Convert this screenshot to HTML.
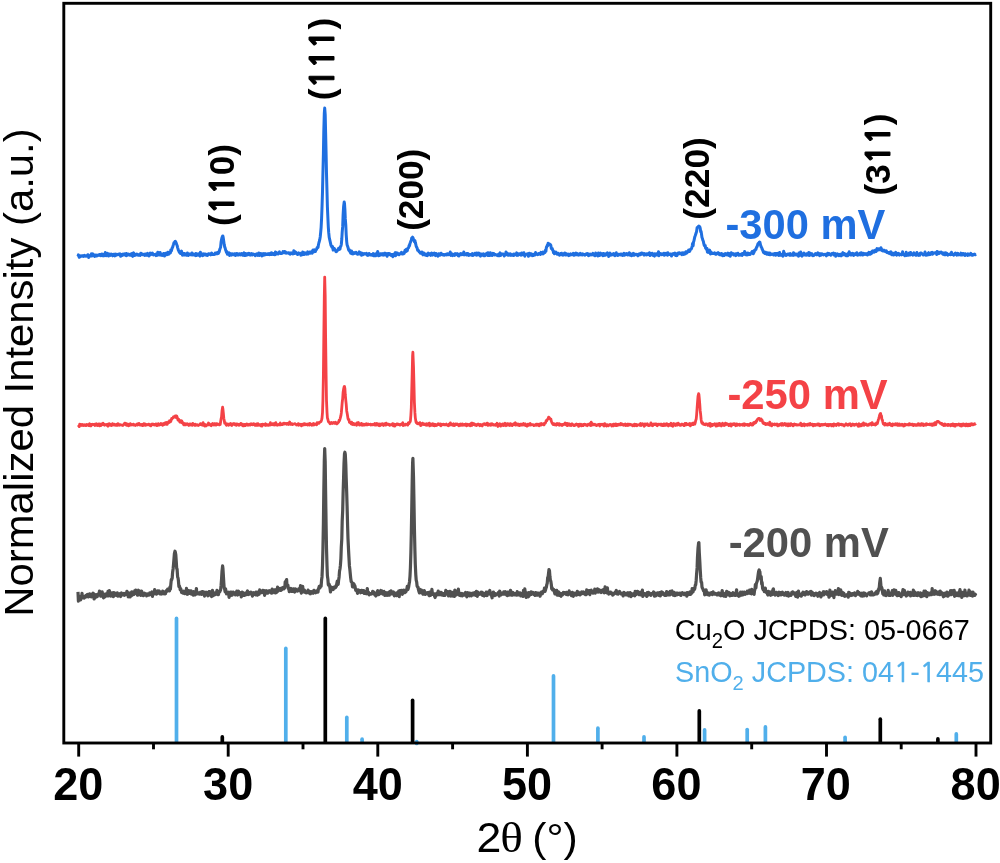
<!DOCTYPE html>
<html><head><meta charset="utf-8"><style>
html,body{margin:0;padding:0;background:#fff;}
svg{display:block;}
text{font-family:"Liberation Sans",Arial,sans-serif;font-kerning:none;font-feature-settings:"kern" 0;}
</style></head><body>
<svg width="1000" height="863" viewBox="0 0 1000 863">
<rect x="0" y="0" width="1000" height="863" fill="#fff"/>
<line x1="176.5" y1="741.5" x2="176.5" y2="618.4" stroke="#50afeb" stroke-width="3.7" stroke-linecap="round"/>
<line x1="285.8" y1="741.5" x2="285.8" y2="648.4" stroke="#50afeb" stroke-width="3.7" stroke-linecap="round"/>
<line x1="346.8" y1="741.5" x2="346.8" y2="717.4" stroke="#50afeb" stroke-width="3.7" stroke-linecap="round"/>
<line x1="362.1" y1="741.5" x2="362.1" y2="739.2" stroke="#50afeb" stroke-width="3.7" stroke-linecap="round"/>
<line x1="416.7" y1="741.5" x2="416.7" y2="743.4" stroke="#50afeb" stroke-width="3.7" stroke-linecap="round"/>
<line x1="553.5" y1="741.5" x2="553.5" y2="675.9" stroke="#50afeb" stroke-width="3.7" stroke-linecap="round"/>
<line x1="597.9" y1="741.5" x2="597.9" y2="728.2" stroke="#50afeb" stroke-width="3.7" stroke-linecap="round"/>
<line x1="644.0" y1="741.5" x2="644.0" y2="736.9" stroke="#50afeb" stroke-width="3.7" stroke-linecap="round"/>
<line x1="704.6" y1="741.5" x2="704.6" y2="729.9" stroke="#50afeb" stroke-width="3.7" stroke-linecap="round"/>
<line x1="747.2" y1="741.5" x2="747.2" y2="729.5" stroke="#50afeb" stroke-width="3.7" stroke-linecap="round"/>
<line x1="765.4" y1="741.5" x2="765.4" y2="726.9" stroke="#50afeb" stroke-width="3.7" stroke-linecap="round"/>
<line x1="845.1" y1="741.5" x2="845.1" y2="737.4" stroke="#50afeb" stroke-width="3.7" stroke-linecap="round"/>
<line x1="956.3" y1="741.5" x2="956.3" y2="733.9" stroke="#50afeb" stroke-width="3.7" stroke-linecap="round"/>
<line x1="222.3" y1="741.5" x2="222.3" y2="736.9" stroke="#000" stroke-width="3.7" stroke-linecap="round"/>
<line x1="325.3" y1="741.5" x2="325.3" y2="618.4" stroke="#000" stroke-width="3.7" stroke-linecap="round"/>
<line x1="412.6" y1="741.5" x2="412.6" y2="700.4" stroke="#000" stroke-width="3.7" stroke-linecap="round"/>
<line x1="699.3" y1="741.5" x2="699.3" y2="710.9" stroke="#000" stroke-width="3.7" stroke-linecap="round"/>
<line x1="880.3" y1="741.5" x2="880.3" y2="719.2" stroke="#000" stroke-width="3.7" stroke-linecap="round"/>
<line x1="937.9" y1="741.5" x2="937.9" y2="738.9" stroke="#000" stroke-width="3.7" stroke-linecap="round"/>
<polyline points="78.0,591.9 78.4,601.2 78.8,597.5 79.3,596.3 79.7,598.3 80.2,598.0 80.6,600.0 81.1,597.8 81.5,598.4 82.0,593.3 82.4,596.9 82.9,597.6 83.3,597.4 83.8,597.8 84.2,598.1 84.7,597.3 85.1,596.1 85.6,596.9 86.0,595.4 86.5,596.8 86.9,595.0 87.4,594.5 87.8,595.7 88.3,596.9 88.7,596.4 89.2,595.5 89.6,593.8 90.1,596.4 90.5,596.3 91.0,594.7 91.4,596.9 91.9,594.1 92.3,594.7 92.8,595.0 93.2,593.2 93.7,594.8 94.1,599.0 94.6,594.3 95.0,596.7 95.4,597.5 95.9,595.1 96.3,594.6 96.8,595.9 97.2,596.6 97.7,595.3 98.1,595.3 98.6,593.6 99.0,594.3 99.5,591.0 99.9,593.8 100.4,595.4 100.8,596.2 101.3,594.4 101.7,594.4 102.2,591.8 102.6,595.9 103.1,594.7 103.5,597.9 104.0,594.1 104.4,594.3 104.9,596.9 105.3,594.8 105.8,596.0 106.2,593.9 106.7,595.8 107.1,595.9 107.6,593.9 108.0,591.4 108.5,595.9 108.9,595.3 109.4,590.6 109.8,595.4 110.3,592.8 110.7,596.1 111.2,594.2 111.6,595.9 112.0,592.9 112.5,594.6 112.9,593.6 113.4,596.7 113.8,592.6 114.3,593.7 114.7,593.7 115.2,593.2 115.6,594.1 116.1,595.3 116.5,595.5 117.0,595.5 117.4,592.9 117.9,596.2 118.3,595.2 118.8,594.9 119.2,594.2 119.7,593.8 120.1,595.9 120.6,596.5 121.0,594.4 121.5,593.0 121.9,593.5 122.4,594.1 122.8,594.8 123.3,594.0 123.7,594.7 124.2,593.4 124.6,595.3 125.1,594.2 125.5,594.5 126.0,593.7 126.4,594.1 126.9,591.3 127.3,592.5 127.8,592.5 128.2,596.8 128.6,594.7 129.1,595.0 129.5,593.7 130.0,597.0 130.4,592.9 130.9,593.0 131.3,595.8 131.8,591.8 132.2,595.2 132.7,594.2 133.1,593.5 133.6,591.8 134.0,594.5 134.5,593.3 134.9,590.6 135.4,592.1 135.8,590.0 136.3,592.6 136.7,591.4 137.2,594.4 137.6,595.2 138.1,592.4 138.5,590.2 139.0,594.5 139.4,594.7 139.9,593.6 140.3,595.0 140.8,595.3 141.2,591.0 141.7,591.2 142.1,594.4 142.6,594.8 143.0,595.5 143.5,595.7 143.9,593.5 144.4,593.1 144.8,594.1 145.2,593.7 145.7,593.9 146.1,593.9 146.6,595.9 147.0,594.6 147.5,593.9 147.9,595.0 148.4,594.6 148.8,595.0 149.3,594.4 149.7,593.0 150.2,594.5 150.6,594.2 151.1,593.0 151.5,593.2 152.0,591.9 152.4,596.4 152.9,592.9 153.3,594.5 153.8,593.7 154.2,592.8 154.7,589.5 155.1,592.6 155.6,593.6 156.0,591.8 156.5,594.1 156.9,593.9 157.4,592.7 157.8,590.9 158.3,591.0 158.7,592.4 159.2,590.9 159.6,593.5 160.1,593.9 160.5,593.2 161.0,592.5 161.4,594.0 161.8,592.8 162.3,593.2 162.7,591.1 163.2,593.8 163.6,591.6 164.1,593.5 164.5,593.8 165.0,593.3 165.4,593.8 165.9,592.0 166.3,590.7 166.8,591.5 167.2,590.7 167.7,589.1 168.1,590.4 168.6,590.0 169.0,590.0 169.5,590.9 169.9,587.2 170.4,589.0 170.8,584.7 171.3,579.6 171.7,579.8 172.2,578.1 172.6,572.2 173.1,569.0 173.5,564.7 174.0,558.7 174.4,553.7 175.0,551.2 175.3,552.0 175.8,554.8 176.2,560.5 176.7,568.5 177.1,569.1 177.6,576.9 178.0,577.8 178.4,580.5 178.9,586.6 179.3,585.8 179.8,587.5 180.2,589.6 180.7,588.6 181.1,590.4 181.6,592.5 182.0,591.1 182.5,591.4 182.9,591.4 183.4,593.2 183.8,591.2 184.3,591.3 184.7,593.7 185.2,593.3 185.6,592.7 186.1,593.4 186.5,588.4 187.0,592.7 187.4,594.3 187.9,594.1 188.3,593.3 188.8,590.5 189.2,593.5 189.7,593.2 190.1,592.8 190.6,590.8 191.0,590.8 191.5,594.2 191.9,592.7 192.4,593.4 192.8,592.9 193.3,595.1 193.7,591.5 194.2,593.8 194.6,593.7 195.0,594.9 195.5,594.6 195.9,593.1 196.4,588.5 196.8,592.9 197.3,592.4 197.7,593.0 198.2,593.8 198.6,592.8 199.1,593.1 199.5,594.0 200.0,593.0 200.4,592.3 200.9,593.6 201.3,594.3 201.8,593.0 202.2,591.6 202.7,594.2 203.1,594.0 203.6,591.9 204.0,592.5 204.5,596.1 204.9,593.5 205.4,592.5 205.8,594.9 206.3,592.2 206.7,593.3 207.2,594.6 207.6,593.7 208.1,595.8 208.5,594.6 209.0,591.7 209.4,595.0 209.9,591.7 210.3,594.0 210.8,592.7 211.2,591.8 211.6,596.6 212.1,594.6 212.5,590.3 213.0,595.2 213.4,595.5 213.9,593.4 214.3,594.6 214.8,593.9 215.2,594.6 215.7,592.7 216.1,594.2 216.6,592.5 217.0,590.3 217.5,593.4 217.9,594.7 218.4,594.7 218.8,593.0 219.3,591.6 219.7,591.9 220.2,590.6 220.6,589.9 221.1,585.2 221.5,579.8 222.0,571.4 222.6,565.9 222.9,568.2 223.3,574.4 223.8,582.9 224.2,588.2 224.7,589.3 225.1,591.8 225.6,588.9 226.0,591.7 226.5,593.8 226.9,592.3 227.4,592.9 227.8,592.7 228.3,592.2 228.7,594.6 229.1,597.3 229.6,592.8 230.0,594.5 230.5,592.0 230.9,594.6 231.4,595.2 231.8,592.0 232.3,595.1 232.7,593.6 233.2,592.1 233.6,593.8 234.1,594.0 234.5,593.8 235.0,592.9 235.4,594.9 235.9,593.2 236.3,593.2 236.8,591.1 237.2,594.3 237.7,595.0 238.1,593.0 238.6,591.2 239.0,593.6 239.5,593.8 239.9,592.5 240.4,594.7 240.8,594.0 241.3,597.0 241.7,595.0 242.2,592.1 242.6,594.7 243.1,594.8 243.5,595.4 244.0,593.2 244.4,593.7 244.9,595.3 245.3,593.1 245.7,593.6 246.2,593.0 246.6,594.6 247.1,591.8 247.5,590.9 248.0,594.0 248.4,594.5 248.9,594.1 249.3,592.8 249.8,594.1 250.2,592.5 250.7,593.1 251.1,592.2 251.6,592.8 252.0,593.9 252.5,596.1 252.9,593.4 253.4,592.8 253.8,593.5 254.3,593.0 254.7,594.3 255.2,594.1 255.6,594.8 256.1,592.0 256.5,593.4 257.0,594.2 257.4,595.2 257.9,593.7 258.3,591.8 258.8,592.9 259.2,594.3 259.7,589.9 260.1,591.7 260.6,592.2 261.0,592.4 261.5,591.9 261.9,592.6 262.3,592.3 262.8,590.3 263.2,591.3 263.7,592.8 264.1,590.6 264.6,595.4 265.0,592.1 265.5,591.7 265.9,593.2 266.4,590.7 266.8,591.8 267.3,591.9 267.7,593.2 268.2,592.6 268.6,591.1 269.1,590.7 269.5,592.1 270.0,592.0 270.4,591.8 270.9,590.7 271.3,593.1 271.8,591.8 272.2,589.1 272.7,592.9 273.1,592.1 273.6,591.2 274.0,590.6 274.5,589.8 274.9,590.0 275.4,593.0 275.8,590.1 276.3,592.5 276.7,592.1 277.2,589.6 277.6,587.1 278.1,591.1 278.5,590.6 278.9,589.4 279.4,589.9 279.8,589.8 280.3,588.4 280.7,590.4 281.2,590.0 281.6,589.9 282.1,587.8 282.5,587.9 283.0,587.4 283.4,588.9 283.9,588.9 284.3,587.3 284.8,588.0 285.2,581.8 285.7,581.3 286.1,580.9 286.6,579.6 287.0,585.7 287.5,585.5 287.9,585.2 288.4,588.8 288.8,588.9 289.3,591.7 289.7,588.9 290.2,589.2 290.6,590.6 291.1,588.5 291.5,591.4 292.0,589.9 292.4,589.6 292.9,591.3 293.3,588.9 293.8,588.8 294.2,591.8 294.7,592.0 295.1,589.7 295.5,588.9 296.0,589.7 296.4,591.0 296.9,590.9 297.3,591.1 297.8,590.0 298.2,590.6 298.7,589.0 299.1,589.6 299.6,590.5 300.0,590.1 300.5,585.7 300.9,590.8 301.4,593.1 301.8,590.7 302.3,591.7 302.7,586.4 303.2,591.8 303.6,591.4 304.1,591.7 304.5,590.1 305.0,591.9 305.4,592.5 305.9,591.9 306.3,592.8 306.8,592.1 307.2,592.3 307.7,592.0 308.1,590.1 308.6,592.9 309.0,592.3 309.5,592.6 309.9,591.6 310.4,593.8 310.8,593.2 311.3,592.4 311.7,591.7 312.1,592.3 312.6,592.9 313.0,593.2 313.5,591.5 313.9,590.3 314.4,591.6 314.8,591.7 315.3,591.3 315.7,592.8 316.2,591.9 316.6,591.6 317.1,590.7 317.5,590.9 318.0,592.0 318.4,588.8 318.9,587.7 319.3,586.3 319.8,588.0 320.2,587.2 320.7,585.4 321.1,586.3 321.6,579.7 322.0,576.9 322.5,565.3 322.9,550.2 323.4,523.8 323.8,491.6 324.3,460.6 324.7,448.6 325.2,462.0 325.6,490.9 326.1,525.2 326.5,548.3 327.0,565.5 327.4,575.7 327.9,579.4 328.3,584.7 328.7,585.3 329.2,584.3 329.6,585.9 330.1,588.7 330.5,592.0 331.0,589.5 331.4,587.2 331.9,589.1 332.3,588.8 332.8,587.8 333.2,589.5 333.7,588.0 334.1,587.1 334.6,587.2 335.0,586.9 335.5,587.7 335.9,585.8 336.4,586.3 336.8,583.5 337.3,581.1 337.7,583.9 338.2,584.2 338.6,580.3 339.1,576.9 339.5,571.3 340.0,568.7 340.4,565.4 340.9,558.3 341.3,546.9 341.8,538.9 342.2,521.1 342.7,510.3 343.1,493.3 343.6,477.6 344.0,463.6 344.5,453.6 344.9,452.2 345.3,454.3 345.8,464.5 346.2,478.2 346.7,492.9 347.1,506.3 347.6,525.7 348.0,538.6 348.5,549.1 348.9,556.7 349.4,565.7 349.8,568.9 350.3,574.2 350.7,578.1 351.2,581.8 351.6,581.9 352.1,582.8 352.5,586.9 353.0,584.4 353.4,584.6 353.9,583.8 354.3,587.3 354.8,585.5 355.2,587.4 355.7,590.3 356.1,589.6 356.6,590.1 357.0,590.4 357.5,593.3 357.9,589.8 358.4,591.7 358.8,590.9 359.3,591.5 359.7,590.4 360.2,592.0 360.6,592.7 361.1,591.2 361.5,590.3 361.9,592.5 362.4,590.6 362.8,592.0 363.3,590.6 363.7,590.6 364.2,593.5 364.6,591.4 365.1,593.3 365.5,592.2 366.0,591.7 366.4,593.8 366.9,591.6 367.3,588.5 367.8,592.9 368.2,593.5 368.7,592.5 369.1,594.8 369.6,594.5 370.0,593.4 370.5,594.2 370.9,594.1 371.4,593.3 371.8,593.4 372.3,593.6 372.7,591.3 373.2,592.1 373.6,591.9 374.1,593.4 374.5,594.0 375.0,595.2 375.4,593.9 375.9,596.0 376.3,594.2 376.8,592.6 377.2,591.6 377.7,590.6 378.1,594.6 378.5,593.0 379.0,594.5 379.4,592.6 379.9,593.7 380.3,592.6 380.8,590.5 381.2,592.5 381.7,590.8 382.1,593.4 382.6,594.0 383.0,592.0 383.5,591.6 383.9,591.5 384.4,593.6 384.8,595.4 385.3,593.9 385.7,592.6 386.2,593.8 386.6,594.3 387.1,595.4 387.5,593.2 388.0,592.7 388.4,592.9 388.9,593.4 389.3,595.2 389.8,591.5 390.2,593.7 390.7,593.8 391.1,590.9 391.6,594.0 392.0,593.7 392.5,593.8 392.9,593.2 393.4,592.0 393.8,593.0 394.3,595.8 394.7,594.0 395.1,593.3 395.6,593.3 396.0,595.0 396.5,595.5 396.9,592.8 397.4,593.0 397.8,593.4 398.3,595.4 398.7,591.2 399.2,596.7 399.6,593.6 400.1,590.6 400.5,593.3 401.0,592.7 401.4,590.4 401.9,591.2 402.3,594.3 402.8,592.3 403.2,592.4 403.7,590.2 404.1,591.1 404.6,590.4 405.0,592.6 405.5,591.5 405.9,591.7 406.4,590.2 406.8,589.2 407.3,586.4 407.7,589.7 408.2,588.7 408.6,587.2 409.1,583.9 409.5,582.0 410.0,576.1 410.4,568.0 410.9,552.0 411.3,534.0 411.7,511.8 412.2,481.6 412.6,463.2 412.9,458.4 413.5,476.9 414.0,503.7 414.4,528.0 414.9,550.4 415.3,564.5 415.8,574.8 416.2,580.2 416.7,582.1 417.1,586.0 417.6,587.0 418.0,587.1 418.5,589.9 418.9,591.2 419.4,592.9 419.8,591.0 420.3,589.5 420.7,591.2 421.2,592.7 421.6,590.2 422.1,592.9 422.5,593.3 423.0,594.2 423.4,594.0 423.9,593.2 424.3,590.6 424.8,593.4 425.2,594.4 425.7,594.0 426.1,593.6 426.6,592.9 427.0,593.3 427.5,592.6 427.9,593.1 428.3,592.8 428.8,595.1 429.2,595.7 429.7,592.1 430.1,592.4 430.6,595.5 431.0,593.5 431.5,593.7 431.9,589.4 432.4,593.5 432.8,594.4 433.3,593.6 433.7,593.6 434.2,593.9 434.6,596.1 435.1,597.5 435.5,594.8 436.0,595.9 436.4,593.6 436.9,593.1 437.3,593.6 437.8,594.4 438.2,591.1 438.7,592.6 439.1,594.8 439.6,592.9 440.0,593.1 440.5,593.7 440.9,592.3 441.4,594.9 441.8,592.9 442.3,595.1 442.7,594.9 443.2,595.3 443.6,593.5 444.1,595.2 444.5,594.0 444.9,595.4 445.4,592.8 445.8,590.4 446.3,593.8 446.7,592.1 447.2,593.4 447.6,591.5 448.1,591.9 448.5,596.0 449.0,592.3 449.4,594.2 449.9,591.4 450.3,591.5 450.8,596.1 451.2,594.3 451.7,595.4 452.1,592.3 452.6,593.3 453.0,596.1 453.5,595.9 453.9,594.8 454.4,596.4 454.8,590.2 455.3,591.0 455.7,595.1 456.2,594.8 456.6,593.5 457.1,590.9 457.5,592.3 458.0,594.1 458.4,589.1 458.9,595.0 459.3,593.6 459.8,595.3 460.2,593.3 460.7,595.6 461.1,595.3 461.5,594.2 462.0,593.5 462.4,595.9 462.9,594.8 463.3,594.0 463.8,593.9 464.2,595.2 464.7,594.0 465.1,594.5 465.6,592.5 466.0,593.5 466.5,595.8 466.9,596.8 467.4,594.0 467.8,592.7 468.3,594.0 468.7,593.1 469.2,593.3 469.6,595.8 470.1,593.3 470.5,594.1 471.0,593.4 471.4,595.8 471.9,594.0 472.3,594.9 472.8,593.2 473.2,594.9 473.7,594.9 474.1,594.9 474.6,592.7 475.0,594.1 475.5,595.1 475.9,595.4 476.4,591.3 476.8,592.4 477.3,596.4 477.7,592.2 478.1,593.4 478.6,592.8 479.0,594.4 479.5,593.2 479.9,593.3 480.4,593.0 480.8,594.1 481.3,592.2 481.7,593.9 482.2,592.3 482.6,595.5 483.1,593.0 483.5,595.7 484.0,596.0 484.4,593.6 484.9,595.2 485.3,593.6 485.8,595.4 486.2,592.2 486.7,594.1 487.1,595.5 487.6,593.9 488.0,593.1 488.5,591.8 488.9,593.5 489.4,591.7 489.8,590.5 490.3,594.1 490.7,594.8 491.2,593.4 491.6,596.0 492.1,597.8 492.5,592.9 493.0,595.4 493.4,592.0 493.9,594.0 494.3,595.3 494.7,595.5 495.2,593.5 495.6,595.1 496.1,594.8 496.5,594.2 497.0,594.0 497.4,594.0 497.9,594.0 498.3,592.6 498.8,592.1 499.2,596.1 499.7,591.0 500.1,594.0 500.6,592.6 501.0,595.0 501.5,593.7 501.9,593.8 502.4,594.0 502.8,593.1 503.3,593.3 503.7,591.9 504.2,594.2 504.6,593.2 505.1,593.3 505.5,591.7 506.0,594.4 506.4,594.3 506.9,595.4 507.3,595.6 507.8,592.2 508.2,594.6 508.7,594.0 509.1,595.0 509.6,592.5 510.0,592.0 510.5,590.3 510.9,593.5 511.3,595.0 511.8,592.0 512.2,593.0 512.7,595.1 513.1,592.6 513.6,593.7 514.0,593.6 514.5,593.7 514.9,594.9 515.4,594.7 515.8,593.3 516.3,594.1 516.7,595.2 517.2,591.6 517.6,594.3 518.1,594.7 518.5,594.9 519.0,593.2 519.4,592.9 519.9,593.8 520.3,593.0 520.8,595.9 521.2,594.5 521.7,594.6 522.1,594.1 522.6,593.5 523.0,596.5 523.5,590.3 523.9,595.1 524.4,593.6 524.8,588.9 525.3,593.0 525.7,593.8 526.2,597.5 526.6,595.3 527.1,593.1 527.5,595.1 527.9,595.3 528.4,596.8 528.8,592.6 529.3,593.4 529.7,595.1 530.2,594.2 530.6,594.1 531.1,591.9 531.5,594.3 532.0,593.7 532.4,593.3 532.9,592.4 533.3,593.9 533.8,594.5 534.2,593.4 534.7,594.7 535.1,595.4 535.6,592.5 536.0,594.3 536.5,593.7 536.9,593.0 537.4,595.1 537.8,593.0 538.3,593.2 538.7,593.8 539.2,593.1 539.6,594.5 540.1,596.2 540.5,593.8 541.0,594.5 541.4,592.2 541.9,592.8 542.3,593.7 542.8,592.8 543.2,591.0 543.7,591.1 544.1,591.6 544.5,588.0 545.0,591.4 545.4,590.3 545.9,588.3 546.3,587.4 546.8,584.6 547.2,583.4 547.7,577.4 548.1,577.2 548.6,572.7 549.0,569.5 549.5,570.8 549.9,576.3 550.4,580.5 550.8,581.1 551.3,584.4 551.7,588.9 552.2,587.7 552.6,590.0 553.1,589.4 553.5,589.3 554.0,591.0 554.4,592.0 554.9,593.8 555.3,593.1 555.8,593.8 556.2,590.3 556.7,590.3 557.1,595.2 557.6,592.6 558.0,592.1 558.5,591.8 558.9,592.3 559.4,595.4 559.8,594.5 560.3,594.3 560.7,593.7 561.1,596.3 561.6,593.8 562.0,593.5 562.5,594.9 562.9,593.7 563.4,592.4 563.8,593.8 564.3,592.6 564.7,592.6 565.2,593.4 565.6,593.4 566.1,594.3 566.5,592.4 567.0,594.5 567.4,592.6 567.9,593.0 568.3,594.8 568.8,593.4 569.2,590.9 569.7,593.8 570.1,593.8 570.6,592.8 571.0,593.0 571.5,595.7 571.9,595.4 572.4,592.3 572.8,593.4 573.3,596.3 573.7,595.4 574.2,593.8 574.6,595.0 575.1,593.2 575.5,593.7 576.0,593.1 576.4,595.1 576.9,592.9 577.3,591.3 577.7,594.6 578.2,592.0 578.6,592.4 579.1,592.8 579.5,593.6 580.0,594.9 580.4,594.5 580.9,592.5 581.3,592.2 581.8,591.8 582.2,592.1 582.7,592.1 583.1,593.7 583.6,592.0 584.0,592.8 584.5,592.4 584.9,592.8 585.4,594.7 585.8,593.4 586.3,594.5 586.7,589.8 587.2,593.8 587.6,592.7 588.1,592.0 588.5,592.2 589.0,590.6 589.4,593.5 589.9,594.7 590.3,590.9 590.8,590.3 591.2,590.2 591.7,591.5 592.1,591.1 592.6,591.5 593.0,593.1 593.5,592.2 593.9,590.9 594.3,592.1 594.8,589.1 595.2,593.2 595.7,591.8 596.1,589.9 596.6,592.0 597.0,590.9 597.5,588.8 597.9,592.1 598.4,589.4 598.8,590.7 599.3,590.6 599.7,591.9 600.2,590.3 600.6,591.2 601.1,592.5 601.5,592.0 602.0,591.3 602.4,590.2 602.9,591.8 603.3,591.2 603.8,589.4 604.2,592.9 604.7,591.1 605.1,586.9 605.6,591.6 606.0,592.3 606.5,592.0 606.9,592.8 607.4,587.9 607.8,592.9 608.3,591.7 608.7,594.1 609.2,593.7 609.6,592.7 610.1,593.5 610.5,592.1 610.9,593.1 611.4,593.7 611.8,592.9 612.3,593.8 612.7,595.1 613.2,594.7 613.6,594.3 614.1,594.0 614.5,593.3 615.0,592.4 615.4,592.9 615.9,591.4 616.3,590.5 616.8,593.8 617.2,591.7 617.7,592.3 618.1,594.2 618.6,593.4 619.0,592.4 619.5,591.5 619.9,592.6 620.4,593.3 620.8,593.0 621.3,594.2 621.7,593.4 622.2,594.3 622.6,593.1 623.1,595.9 623.5,593.5 624.0,592.4 624.4,593.2 624.9,594.0 625.3,593.3 625.8,595.0 626.2,595.0 626.7,594.4 627.1,594.2 627.5,592.8 628.0,595.1 628.4,592.8 628.9,595.9 629.3,595.0 629.8,594.1 630.2,592.6 630.7,594.8 631.1,596.6 631.6,593.5 632.0,594.1 632.5,595.3 632.9,595.3 633.4,594.9 633.8,593.9 634.3,593.3 634.7,595.8 635.2,591.3 635.6,594.1 636.1,594.5 636.5,593.3 637.0,593.9 637.4,591.3 637.9,592.8 638.3,591.7 638.8,594.6 639.2,594.7 639.7,594.5 640.1,593.3 640.6,594.9 641.0,592.2 641.5,591.8 641.9,594.3 642.4,590.2 642.8,596.5 643.3,595.2 643.7,593.4 644.1,594.1 644.6,594.1 645.0,593.6 645.5,594.8 645.9,594.3 646.4,595.7 646.8,596.4 647.3,592.6 647.7,595.2 648.2,595.0 648.6,592.4 649.1,592.8 649.5,594.7 650.0,594.8 650.4,594.2 650.9,595.3 651.3,593.5 651.8,593.9 652.2,594.0 652.7,593.2 653.1,593.3 653.6,591.9 654.0,592.3 654.5,596.2 654.9,593.0 655.4,595.5 655.8,595.8 656.3,593.3 656.7,595.0 657.2,594.5 657.6,592.8 658.1,594.9 658.5,595.2 659.0,593.7 659.4,592.6 659.9,593.5 660.3,596.0 660.7,594.9 661.2,594.3 661.6,591.8 662.1,593.0 662.5,593.1 663.0,592.7 663.4,594.5 663.9,593.5 664.3,593.5 664.8,595.3 665.2,594.1 665.7,593.4 666.1,595.4 666.6,591.7 667.0,593.2 667.5,592.8 667.9,595.0 668.4,594.0 668.8,592.3 669.3,593.1 669.7,595.0 670.2,591.4 670.6,592.4 671.1,594.2 671.5,591.2 672.0,591.0 672.4,594.1 672.9,594.2 673.3,595.3 673.8,594.8 674.2,592.3 674.7,594.2 675.1,595.5 675.6,595.1 676.0,594.0 676.5,593.1 676.9,594.9 677.3,593.1 677.8,594.6 678.2,593.6 678.7,593.3 679.1,593.2 679.6,594.5 680.0,594.1 680.5,593.3 680.9,595.5 681.4,593.7 681.8,593.3 682.3,592.6 682.7,593.9 683.2,594.1 683.6,593.6 684.1,594.7 684.5,594.0 685.0,593.2 685.4,593.4 685.9,594.9 686.3,594.0 686.8,596.1 687.2,592.6 687.7,594.1 688.1,593.1 688.6,594.6 689.0,593.3 689.5,592.6 689.9,591.9 690.4,594.5 690.8,591.7 691.3,592.8 691.7,593.3 692.2,588.5 692.6,592.1 693.1,591.7 693.5,588.7 693.9,590.0 694.4,589.4 694.8,588.5 695.3,585.0 695.7,584.9 696.2,580.2 696.6,573.8 697.1,567.9 697.5,556.8 698.0,548.5 698.6,542.9 698.9,542.7 699.3,552.8 699.8,561.3 700.2,569.3 700.7,577.7 701.1,582.1 701.6,582.2 702.0,587.0 702.5,588.4 702.9,588.8 703.4,590.6 703.8,591.2 704.3,591.1 704.7,594.8 705.2,590.5 705.6,593.7 706.1,589.8 706.5,592.2 707.0,592.9 707.4,594.6 707.9,592.9 708.3,594.6 708.8,594.2 709.2,595.2 709.7,594.5 710.1,593.1 710.5,593.5 711.0,593.3 711.4,592.6 711.9,593.8 712.3,594.6 712.8,594.1 713.2,591.8 713.7,593.8 714.1,593.5 714.6,594.0 715.0,593.6 715.5,593.4 715.9,593.9 716.4,594.1 716.8,594.9 717.3,595.0 717.7,593.5 718.2,593.1 718.6,592.9 719.1,594.0 719.5,595.0 720.0,593.3 720.4,593.3 720.9,595.8 721.3,593.1 721.8,593.4 722.2,590.5 722.7,595.4 723.1,595.6 723.6,593.1 724.0,596.2 724.5,595.0 724.9,595.4 725.4,595.3 725.8,596.4 726.3,594.4 726.7,591.3 727.1,593.6 727.6,593.6 728.0,594.5 728.5,592.4 728.9,593.5 729.4,592.8 729.8,595.9 730.3,593.7 730.7,595.5 731.2,593.7 731.6,593.8 732.1,595.4 732.5,593.9 733.0,592.7 733.4,593.5 733.9,593.4 734.3,595.1 734.8,594.9 735.2,595.4 735.7,593.9 736.1,592.6 736.6,589.8 737.0,594.0 737.5,595.4 737.9,593.5 738.4,594.3 738.8,596.3 739.3,596.1 739.7,594.4 740.2,595.0 740.6,592.0 741.1,593.9 741.5,595.2 742.0,594.5 742.4,592.0 742.9,595.0 743.3,592.9 743.7,593.3 744.2,592.1 744.6,593.2 745.1,594.3 745.5,593.1 746.0,593.6 746.4,592.5 746.9,593.7 747.3,591.2 747.8,592.2 748.2,593.0 748.7,592.6 749.1,593.2 749.6,590.1 750.0,593.0 750.5,592.0 750.9,593.6 751.4,593.8 751.8,589.3 752.3,592.8 752.7,593.0 753.2,590.5 753.6,590.6 754.1,594.3 754.5,590.9 755.0,588.8 755.4,584.5 755.9,587.9 756.3,583.8 756.8,582.3 757.2,581.2 757.7,577.9 758.1,575.1 758.6,571.6 759.2,569.9 759.5,571.6 759.9,571.7 760.3,576.9 760.8,579.3 761.2,576.6 761.7,584.1 762.1,582.4 762.6,588.3 763.0,589.4 763.5,590.1 763.9,588.0 764.4,591.7 764.8,591.7 765.3,588.1 765.7,590.9 766.2,592.4 766.6,591.9 767.1,591.8 767.5,594.3 768.0,595.0 768.4,591.3 768.9,591.7 769.3,593.3 769.8,593.0 770.2,594.6 770.7,595.2 771.1,593.2 771.6,591.6 772.0,592.6 772.5,594.5 772.9,589.8 773.4,588.9 773.8,591.6 774.3,594.2 774.7,592.6 775.2,595.1 775.6,594.6 776.1,593.5 776.5,592.3 776.9,594.6 777.4,593.3 777.8,593.8 778.3,595.5 778.7,594.2 779.2,592.2 779.6,594.1 780.1,593.4 780.5,593.0 781.0,594.9 781.4,592.6 781.9,592.3 782.3,592.2 782.8,592.5 783.2,594.6 783.7,594.8 784.1,595.0 784.6,595.2 785.0,595.1 785.5,592.9 785.9,592.4 786.4,594.9 786.8,593.2 787.3,595.6 787.7,594.5 788.2,592.5 788.6,596.1 789.1,594.1 789.5,594.1 790.0,594.6 790.4,594.8 790.9,595.3 791.3,594.3 791.8,592.3 792.2,593.9 792.7,591.8 793.1,593.9 793.5,593.6 794.0,592.7 794.4,592.9 794.9,594.0 795.3,595.0 795.8,596.4 796.2,594.2 796.7,592.5 797.1,592.2 797.6,597.2 798.0,595.1 798.5,591.2 798.9,595.5 799.4,594.0 799.8,594.2 800.3,594.8 800.7,594.3 801.2,596.1 801.6,595.4 802.1,595.3 802.5,593.1 803.0,592.2 803.4,594.5 803.9,593.3 804.3,594.3 804.8,593.3 805.2,595.0 805.7,592.2 806.1,593.1 806.6,591.6 807.0,593.4 807.5,592.5 807.9,594.2 808.4,594.1 808.8,592.3 809.3,593.5 809.7,592.5 810.1,591.7 810.6,591.7 811.0,591.4 811.5,595.2 811.9,592.0 812.4,593.7 812.8,593.7 813.3,594.4 813.7,593.4 814.2,595.6 814.6,595.1 815.1,595.1 815.5,593.9 816.0,593.1 816.4,593.3 816.9,593.8 817.3,594.9 817.8,596.3 818.2,593.7 818.7,594.0 819.1,593.8 819.6,592.5 820.0,594.4 820.5,594.5 820.9,597.0 821.4,593.5 821.8,594.3 822.3,595.1 822.7,593.8 823.2,591.9 823.6,594.9 824.1,591.9 824.5,593.3 825.0,593.1 825.4,593.3 825.9,593.5 826.3,594.0 826.7,591.5 827.2,594.3 827.6,593.3 828.1,594.5 828.5,594.6 829.0,597.2 829.4,596.5 829.9,590.1 830.3,592.4 830.8,594.8 831.2,594.3 831.7,593.5 832.1,595.4 832.6,592.1 833.0,595.5 833.5,595.1 833.9,597.6 834.4,592.4 834.8,594.2 835.3,590.7 835.7,593.1 836.2,593.8 836.6,594.2 837.1,594.0 837.5,591.8 838.0,591.5 838.4,588.5 838.9,594.7 839.3,593.2 839.8,592.6 840.2,593.6 840.7,589.8 841.1,593.7 841.6,595.3 842.0,594.0 842.5,592.3 842.9,595.4 843.3,594.1 843.8,593.2 844.2,595.9 844.7,594.4 845.1,596.3 845.6,595.0 846.0,595.9 846.5,595.3 846.9,594.8 847.4,594.6 847.8,594.5 848.3,597.1 848.7,592.3 849.2,594.6 849.6,593.4 850.1,593.2 850.5,593.9 851.0,595.5 851.4,594.7 851.9,594.8 852.3,593.6 852.8,595.1 853.2,593.7 853.7,593.8 854.1,594.4 854.6,592.8 855.0,594.2 855.5,595.7 855.9,593.9 856.4,594.1 856.8,594.3 857.3,594.0 857.7,591.4 858.2,594.0 858.6,593.7 859.1,594.5 859.5,592.7 859.9,594.3 860.4,595.2 860.8,595.7 861.3,593.6 861.7,593.3 862.2,596.1 862.6,595.1 863.1,593.4 863.5,593.0 864.0,595.8 864.4,594.7 864.9,593.2 865.3,594.8 865.8,594.7 866.2,594.8 866.7,595.8 867.1,594.1 867.6,593.8 868.0,593.9 868.5,594.0 868.9,592.8 869.4,593.9 869.8,593.0 870.3,594.8 870.7,592.4 871.2,595.0 871.6,591.8 872.1,594.6 872.5,594.9 873.0,595.0 873.4,594.4 873.9,594.5 874.3,594.6 874.8,594.1 875.2,592.8 875.7,592.5 876.1,593.8 876.5,591.6 877.0,594.0 877.4,593.5 877.9,592.8 878.3,589.5 878.8,590.4 879.2,588.1 879.7,582.7 880.3,578.4 880.6,581.6 881.0,586.7 881.5,587.2 881.9,588.2 882.4,590.6 882.8,593.7 883.3,592.9 883.7,595.0 884.2,594.7 884.6,590.8 885.1,592.8 885.5,595.4 886.0,595.6 886.4,593.3 886.9,594.6 887.3,593.2 887.8,594.8 888.2,590.4 888.7,593.8 889.1,595.3 889.6,592.9 890.0,595.5 890.5,595.0 890.9,594.4 891.4,594.2 891.8,594.2 892.3,590.6 892.7,595.3 893.1,591.1 893.6,591.8 894.0,589.8 894.5,594.0 894.9,592.7 895.4,593.4 895.8,590.4 896.3,594.4 896.7,595.1 897.2,595.6 897.6,593.4 898.1,592.8 898.5,595.5 899.0,592.5 899.4,594.0 899.9,594.8 900.3,595.2 900.8,594.7 901.2,596.6 901.7,594.3 902.1,594.6 902.6,591.7 903.0,589.6 903.5,594.7 903.9,594.3 904.4,590.3 904.8,592.3 905.3,594.0 905.7,594.4 906.2,596.0 906.6,594.7 907.1,594.5 907.5,595.2 908.0,592.2 908.4,594.6 908.9,594.4 909.3,593.8 909.7,593.8 910.2,592.3 910.6,596.0 911.1,595.2 911.5,594.2 912.0,594.1 912.4,594.7 912.9,595.2 913.3,590.0 913.8,595.5 914.2,595.0 914.7,592.6 915.1,592.2 915.6,593.2 916.0,595.3 916.5,595.3 916.9,595.4 917.4,595.6 917.8,594.8 918.3,592.7 918.7,594.0 919.2,595.2 919.6,595.2 920.1,595.7 920.5,592.8 921.0,596.7 921.4,593.9 921.9,596.0 922.3,595.5 922.8,596.1 923.2,593.1 923.7,594.4 924.1,591.0 924.6,595.5 925.0,595.6 925.5,591.0 925.9,593.6 926.3,594.6 926.8,596.7 927.2,592.5 927.7,593.6 928.1,593.8 928.6,594.9 929.0,593.5 929.5,594.9 929.9,594.1 930.4,594.4 930.8,592.6 931.3,594.7 931.7,594.5 932.2,588.5 932.6,593.7 933.1,593.9 933.5,594.1 934.0,592.5 934.4,594.3 934.9,592.8 935.3,590.7 935.8,592.5 936.2,591.3 936.7,594.0 937.1,592.3 937.6,593.8 938.0,594.3 938.5,593.3 938.9,593.9 939.4,591.7 939.8,594.7 940.3,591.2 940.7,594.2 941.2,593.3 941.6,592.8 942.1,593.5 942.5,593.0 942.9,595.2 943.4,596.8 943.8,594.3 944.3,596.2 944.7,594.9 945.2,593.1 945.6,594.5 946.1,595.0 946.5,595.6 947.0,592.1 947.4,594.5 947.9,596.2 948.3,594.0 948.8,593.1 949.2,594.1 949.7,594.9 950.1,593.1 950.6,590.7 951.0,594.3 951.5,594.5 951.9,590.5 952.4,592.7 952.8,593.1 953.3,594.1 953.7,594.0 954.2,590.3 954.6,596.3 955.1,593.7 955.5,595.4 956.0,592.7 956.4,594.9 956.9,594.5 957.3,595.6 957.8,594.3 958.2,593.4 958.7,592.3 959.1,595.8 959.5,591.7 960.0,589.6 960.4,593.2 960.9,594.3 961.3,593.7 961.8,597.5 962.2,592.3 962.7,594.1 963.1,596.0 963.6,592.9 964.0,595.0 964.5,595.5 964.9,590.0 965.4,593.8 965.8,594.8 966.3,594.4 966.7,595.9 967.2,596.0 967.6,593.2 968.1,592.7 968.5,593.8 969.0,590.1 969.4,594.8 969.9,594.4 970.3,595.4 970.8,592.2 971.2,595.0 971.7,593.8 972.1,594.3 972.6,596.0 973.0,592.0 973.5,594.7 973.9,595.2 974.4,594.1 974.8,595.4 975.3,594.2 975.7,595.4" fill="none" stroke="#505050" stroke-width="3.2" stroke-linejoin="round"/>
<polyline points="78.0,425.1 78.4,425.5 78.8,425.4 79.3,426.6 79.7,424.1 80.2,424.4 80.6,425.3 81.1,424.6 81.5,424.9 82.0,425.4 82.4,424.5 82.9,425.2 83.3,425.2 83.8,425.5 84.2,424.7 84.7,425.1 85.1,424.7 85.6,425.4 86.0,424.9 86.5,425.5 86.9,424.5 87.4,424.8 87.8,424.7 88.3,424.7 88.7,425.5 89.2,424.5 89.6,423.7 90.1,425.9 90.5,425.9 91.0,425.8 91.4,424.4 91.9,424.8 92.3,424.2 92.8,424.4 93.2,424.7 93.7,424.7 94.1,425.0 94.6,424.3 95.0,425.5 95.4,425.1 95.9,424.7 96.3,423.7 96.8,425.3 97.2,425.5 97.7,425.2 98.1,424.2 98.6,424.9 99.0,424.0 99.5,425.9 99.9,424.1 100.4,424.2 100.8,425.6 101.3,424.7 101.7,424.1 102.2,424.7 102.6,424.2 103.1,423.3 103.5,424.6 104.0,424.9 104.4,425.2 104.9,424.4 105.3,424.9 105.8,424.9 106.2,424.8 106.7,424.4 107.1,425.4 107.6,425.7 108.0,426.2 108.5,424.0 108.9,424.7 109.4,423.8 109.8,424.7 110.3,425.2 110.7,424.4 111.2,424.8 111.6,425.5 112.0,425.3 112.5,423.7 112.9,424.5 113.4,424.5 113.8,424.9 114.3,425.1 114.7,424.2 115.2,424.8 115.6,425.2 116.1,424.8 116.5,425.3 117.0,424.6 117.4,424.0 117.9,425.2 118.3,423.8 118.8,425.1 119.2,424.6 119.7,425.2 120.1,424.8 120.6,424.7 121.0,425.0 121.5,425.1 121.9,425.1 122.4,425.2 122.8,425.6 123.3,424.8 123.7,424.4 124.2,424.1 124.6,423.2 125.1,423.2 125.5,424.5 126.0,425.0 126.4,423.6 126.9,425.3 127.3,424.1 127.8,425.2 128.2,424.5 128.6,425.9 129.1,424.1 129.5,424.8 130.0,425.3 130.4,423.7 130.9,424.2 131.3,424.6 131.8,425.1 132.2,424.7 132.7,424.8 133.1,424.2 133.6,424.2 134.0,425.1 134.5,425.0 134.9,425.0 135.4,425.5 135.8,425.0 136.3,424.7 136.7,424.2 137.2,423.9 137.6,425.1 138.1,424.3 138.5,423.5 139.0,423.4 139.4,424.7 139.9,424.3 140.3,425.2 140.8,425.1 141.2,424.5 141.7,424.9 142.1,424.4 142.6,425.6 143.0,424.2 143.5,425.2 143.9,423.6 144.4,424.8 144.8,424.0 145.2,425.4 145.7,424.3 146.1,425.1 146.6,424.9 147.0,424.6 147.5,424.8 147.9,424.4 148.4,424.1 148.8,424.2 149.3,424.6 149.7,425.4 150.2,425.0 150.6,424.7 151.1,425.8 151.5,424.1 152.0,424.7 152.4,424.7 152.9,424.0 153.3,424.1 153.8,424.4 154.2,425.1 154.7,424.3 155.1,424.3 155.6,425.0 156.0,423.9 156.5,424.2 156.9,425.6 157.4,424.4 157.8,425.2 158.3,423.7 158.7,423.9 159.2,425.1 159.6,424.9 160.1,424.3 160.5,424.5 161.0,423.4 161.4,423.8 161.8,424.4 162.3,423.9 162.7,425.4 163.2,424.0 163.6,423.6 164.1,424.1 164.5,424.4 165.0,423.5 165.4,422.6 165.9,423.5 166.3,424.2 166.8,422.5 167.2,424.3 167.7,422.6 168.1,423.0 168.6,421.8 169.0,422.5 169.5,420.8 169.9,421.0 170.4,421.8 170.8,421.4 171.3,419.9 171.7,418.4 172.2,418.6 172.6,418.1 173.1,417.8 173.5,416.8 174.0,416.6 174.4,416.4 175.0,417.1 175.3,415.8 175.8,415.9 176.2,417.7 176.7,416.0 177.1,417.4 177.6,418.6 178.0,420.0 178.4,419.0 178.9,419.6 179.3,420.8 179.8,422.0 180.2,420.7 180.7,422.1 181.1,422.4 181.6,420.8 182.0,421.5 182.5,422.4 182.9,423.5 183.4,423.0 183.8,424.9 184.3,423.6 184.7,424.3 185.2,424.7 185.6,424.9 186.1,423.7 186.5,424.0 187.0,424.1 187.4,423.7 187.9,424.7 188.3,425.0 188.8,425.4 189.2,424.5 189.7,423.9 190.1,424.4 190.6,424.0 191.0,425.1 191.5,424.7 191.9,424.9 192.4,425.2 192.8,423.3 193.3,423.9 193.7,424.9 194.2,424.9 194.6,424.5 195.0,425.4 195.5,424.2 195.9,425.3 196.4,424.7 196.8,425.1 197.3,424.8 197.7,425.3 198.2,425.5 198.6,425.1 199.1,424.9 199.5,424.7 200.0,424.5 200.4,423.6 200.9,424.1 201.3,424.7 201.8,424.1 202.2,425.0 202.7,423.7 203.1,422.6 203.6,425.4 204.0,424.1 204.5,424.1 204.9,426.2 205.4,425.0 205.8,424.9 206.3,425.7 206.7,425.2 207.2,425.2 207.6,424.3 208.1,424.4 208.5,423.0 209.0,424.8 209.4,423.9 209.9,424.5 210.3,424.4 210.8,425.3 211.2,425.7 211.6,425.0 212.1,424.1 212.5,423.6 213.0,424.2 213.4,424.3 213.9,425.1 214.3,423.6 214.8,423.7 215.2,424.8 215.7,424.5 216.1,425.1 216.6,423.6 217.0,424.2 217.5,424.5 217.9,424.1 218.4,424.1 218.8,424.5 219.3,424.9 219.7,424.7 220.2,424.5 220.6,422.1 221.1,418.7 221.5,417.0 222.0,411.0 222.6,407.1 222.9,409.0 223.3,412.6 223.8,418.2 224.2,420.2 224.7,423.2 225.1,422.4 225.6,423.6 226.0,424.5 226.5,425.4 226.9,424.7 227.4,424.0 227.8,424.5 228.3,424.3 228.7,425.2 229.1,424.4 229.6,424.1 230.0,424.5 230.5,423.4 230.9,424.7 231.4,425.2 231.8,425.6 232.3,423.9 232.7,424.6 233.2,424.0 233.6,424.3 234.1,423.6 234.5,423.9 235.0,424.8 235.4,424.5 235.9,424.0 236.3,425.4 236.8,423.8 237.2,423.9 237.7,424.0 238.1,424.7 238.6,424.4 239.0,425.3 239.5,424.6 239.9,425.0 240.4,424.6 240.8,423.4 241.3,424.5 241.7,423.9 242.2,425.4 242.6,424.1 243.1,425.8 243.5,425.9 244.0,424.7 244.4,424.6 244.9,424.4 245.3,425.6 245.7,424.7 246.2,424.6 246.6,423.9 247.1,424.7 247.5,424.3 248.0,425.2 248.4,424.7 248.9,424.9 249.3,424.2 249.8,425.2 250.2,425.1 250.7,424.3 251.1,423.6 251.6,424.4 252.0,424.5 252.5,424.8 252.9,424.0 253.4,424.3 253.8,423.6 254.3,424.4 254.7,425.2 255.2,425.0 255.6,425.2 256.1,425.4 256.5,423.9 257.0,424.1 257.4,425.4 257.9,423.6 258.3,424.5 258.8,425.2 259.2,424.4 259.7,424.7 260.1,425.1 260.6,425.8 261.0,424.6 261.5,424.4 261.9,426.2 262.3,424.3 262.8,424.2 263.2,424.9 263.7,424.5 264.1,424.8 264.6,425.1 265.0,424.8 265.5,423.8 265.9,425.5 266.4,424.4 266.8,424.5 267.3,425.0 267.7,424.8 268.2,425.4 268.6,425.1 269.1,424.5 269.5,424.3 270.0,425.1 270.4,422.7 270.9,424.8 271.3,424.4 271.8,424.6 272.2,424.7 272.7,423.7 273.1,424.7 273.6,423.6 274.0,423.7 274.5,425.0 274.9,423.7 275.4,424.7 275.8,422.6 276.3,424.5 276.7,424.8 277.2,425.3 277.6,424.9 278.1,424.5 278.5,424.7 278.9,424.8 279.4,424.4 279.8,424.1 280.3,423.0 280.7,424.9 281.2,424.2 281.6,424.4 282.1,424.7 282.5,424.5 283.0,424.2 283.4,423.2 283.9,423.8 284.3,424.0 284.8,423.3 285.2,423.5 285.7,423.8 286.1,423.4 286.6,424.2 287.0,423.3 287.5,423.4 287.9,424.0 288.4,424.5 288.8,422.9 289.3,423.8 289.7,422.0 290.2,424.3 290.6,423.4 291.1,424.3 291.5,423.9 292.0,423.6 292.4,424.6 292.9,424.2 293.3,424.1 293.8,424.1 294.2,423.9 294.7,423.6 295.1,423.8 295.5,424.1 296.0,424.5 296.4,425.0 296.9,424.8 297.3,424.7 297.8,424.0 298.2,423.7 298.7,425.2 299.1,424.0 299.6,424.9 300.0,424.9 300.5,424.6 300.9,424.2 301.4,425.9 301.8,425.1 302.3,424.3 302.7,424.7 303.2,425.0 303.6,424.8 304.1,423.6 304.5,424.7 305.0,424.0 305.4,424.0 305.9,424.7 306.3,424.2 306.8,424.7 307.2,424.8 307.7,425.1 308.1,423.9 308.6,424.6 309.0,424.7 309.5,425.0 309.9,423.3 310.4,423.9 310.8,424.4 311.3,424.7 311.7,425.2 312.1,424.1 312.6,424.1 313.0,425.1 313.5,423.5 313.9,423.7 314.4,424.7 314.8,424.4 315.3,424.3 315.7,423.9 316.2,424.0 316.6,424.8 317.1,422.8 317.5,423.4 318.0,422.7 318.4,422.6 318.9,423.3 319.3,422.7 319.8,422.2 320.2,421.8 320.7,421.8 321.1,421.4 321.6,419.9 322.0,418.1 322.5,412.6 322.9,401.0 323.4,375.0 323.8,337.6 324.3,296.6 324.7,277.1 325.2,296.0 325.6,335.8 326.1,374.8 326.5,400.6 327.0,412.1 327.4,417.9 327.9,419.5 328.3,421.3 328.7,422.0 329.2,422.3 329.6,422.8 330.1,423.7 330.5,423.2 331.0,423.0 331.4,422.4 331.9,423.4 332.3,423.5 332.8,423.0 333.2,423.0 333.7,422.4 334.1,423.0 334.6,423.3 335.0,422.5 335.5,422.3 335.9,423.4 336.4,422.9 336.8,423.9 337.3,422.9 337.7,423.0 338.2,422.4 338.6,422.1 339.1,420.3 339.5,420.6 340.0,419.1 340.4,417.6 340.9,415.7 341.3,413.0 341.8,407.5 342.2,402.5 342.7,398.3 343.1,392.3 343.6,389.1 344.2,386.6 344.5,386.5 344.9,388.6 345.3,395.0 345.8,400.4 346.2,404.2 346.7,410.9 347.1,413.1 347.6,416.0 348.0,418.6 348.5,419.8 348.9,419.4 349.4,422.3 349.8,422.4 350.3,422.7 350.7,423.2 351.2,423.8 351.6,422.2 352.1,423.2 352.5,424.5 353.0,424.0 353.4,423.4 353.9,423.5 354.3,424.7 354.8,424.0 355.2,423.8 355.7,423.8 356.1,423.8 356.6,425.2 357.0,423.0 357.5,424.0 357.9,423.1 358.4,422.5 358.8,424.3 359.3,425.0 359.7,423.8 360.2,424.4 360.6,424.6 361.1,425.0 361.5,423.4 361.9,424.6 362.4,425.2 362.8,424.7 363.3,425.1 363.7,424.3 364.2,424.7 364.6,425.1 365.1,424.1 365.5,424.9 366.0,424.0 366.4,423.7 366.9,424.7 367.3,424.9 367.8,424.4 368.2,424.0 368.7,424.5 369.1,424.4 369.6,424.5 370.0,424.3 370.5,424.2 370.9,425.0 371.4,424.8 371.8,424.5 372.3,424.9 372.7,424.5 373.2,424.2 373.6,424.6 374.1,424.9 374.5,425.0 375.0,423.5 375.4,424.0 375.9,425.2 376.3,425.1 376.8,423.5 377.2,423.7 377.7,424.5 378.1,423.9 378.5,425.5 379.0,424.6 379.4,424.1 379.9,425.7 380.3,425.1 380.8,424.1 381.2,423.9 381.7,424.9 382.1,424.4 382.6,423.6 383.0,424.8 383.5,425.4 383.9,424.6 384.4,424.8 384.8,423.8 385.3,424.5 385.7,425.1 386.2,423.2 386.6,424.9 387.1,424.3 387.5,424.2 388.0,424.1 388.4,424.5 388.9,424.2 389.3,424.6 389.8,425.4 390.2,424.7 390.7,424.7 391.1,424.7 391.6,424.5 392.0,425.0 392.5,423.8 392.9,423.6 393.4,425.9 393.8,424.6 394.3,424.3 394.7,426.1 395.1,424.3 395.6,424.9 396.0,424.8 396.5,424.9 396.9,423.9 397.4,423.8 397.8,424.4 398.3,424.1 398.7,424.6 399.2,424.4 399.6,425.0 400.1,424.5 400.5,424.9 401.0,424.2 401.4,424.0 401.9,424.3 402.3,423.7 402.8,422.8 403.2,425.6 403.7,424.3 404.1,424.7 404.6,424.6 405.0,425.1 405.5,424.2 405.9,424.3 406.4,424.4 406.8,424.1 407.3,424.2 407.7,425.1 408.2,422.9 408.6,423.5 409.1,423.6 409.5,422.3 410.0,422.0 410.4,421.0 410.9,414.8 411.3,407.5 411.7,391.9 412.2,372.8 412.6,355.9 412.9,352.2 413.5,366.5 414.0,386.1 414.4,402.5 414.9,412.4 415.3,417.6 415.8,420.9 416.2,422.7 416.7,422.3 417.1,423.5 417.6,423.7 418.0,423.8 418.5,423.5 418.9,423.8 419.4,423.4 419.8,422.6 420.3,423.9 420.7,425.6 421.2,425.3 421.6,424.2 422.1,424.4 422.5,423.1 423.0,424.4 423.4,424.5 423.9,423.9 424.3,423.8 424.8,424.6 425.2,424.2 425.7,425.2 426.1,425.1 426.6,423.8 427.0,425.4 427.5,424.0 427.9,424.2 428.3,424.1 428.8,424.0 429.2,423.1 429.7,425.9 430.1,425.2 430.6,425.0 431.0,424.0 431.5,425.3 431.9,425.0 432.4,424.8 432.8,423.8 433.3,425.5 433.7,425.4 434.2,424.2 434.6,425.9 435.1,424.4 435.5,424.9 436.0,425.6 436.4,424.9 436.9,425.2 437.3,424.5 437.8,424.4 438.2,423.7 438.7,423.9 439.1,424.6 439.6,425.0 440.0,424.7 440.5,424.0 440.9,425.8 441.4,424.3 441.8,425.0 442.3,424.6 442.7,424.5 443.2,424.1 443.6,424.5 444.1,424.9 444.5,424.5 444.9,424.6 445.4,424.8 445.8,424.5 446.3,424.1 446.7,424.6 447.2,424.6 447.6,425.4 448.1,424.7 448.5,425.8 449.0,424.2 449.4,425.2 449.9,423.9 450.3,422.9 450.8,424.9 451.2,423.9 451.7,424.4 452.1,425.0 452.6,425.2 453.0,424.3 453.5,423.8 453.9,424.5 454.4,425.6 454.8,425.3 455.3,424.8 455.7,423.9 456.2,424.5 456.6,424.5 457.1,423.9 457.5,424.8 458.0,424.7 458.4,424.8 458.9,425.7 459.3,424.4 459.8,424.4 460.2,424.1 460.7,425.4 461.1,425.2 461.5,424.1 462.0,424.5 462.4,423.9 462.9,425.2 463.3,424.6 463.8,425.1 464.2,424.5 464.7,425.0 465.1,424.4 465.6,424.0 466.0,424.3 466.5,425.8 466.9,424.1 467.4,424.4 467.8,425.3 468.3,425.2 468.7,424.7 469.2,424.3 469.6,424.9 470.1,425.7 470.5,424.5 471.0,424.6 471.4,423.2 471.9,425.5 472.3,423.2 472.8,423.6 473.2,424.5 473.7,423.7 474.1,424.6 474.6,424.1 475.0,425.1 475.5,424.6 475.9,425.3 476.4,425.6 476.8,424.8 477.3,425.1 477.7,424.3 478.1,423.9 478.6,424.8 479.0,424.6 479.5,424.6 479.9,425.7 480.4,424.5 480.8,424.7 481.3,424.7 481.7,425.3 482.2,425.9 482.6,424.8 483.1,424.5 483.5,423.9 484.0,424.0 484.4,423.8 484.9,424.5 485.3,424.0 485.8,424.8 486.2,424.3 486.7,424.1 487.1,423.1 487.6,424.5 488.0,425.4 488.5,423.9 488.9,424.4 489.4,424.7 489.8,424.9 490.3,425.2 490.7,423.9 491.2,424.3 491.6,425.0 492.1,423.8 492.5,424.9 493.0,424.3 493.4,424.9 493.9,425.1 494.3,425.1 494.7,424.9 495.2,424.5 495.6,425.2 496.1,424.7 496.5,424.4 497.0,423.3 497.4,424.2 497.9,426.5 498.3,425.0 498.8,424.9 499.2,424.5 499.7,423.7 500.1,424.2 500.6,426.1 501.0,424.5 501.5,424.6 501.9,424.4 502.4,423.9 502.8,425.3 503.3,424.0 503.7,425.7 504.2,424.7 504.6,424.5 505.1,423.3 505.5,425.1 506.0,425.7 506.4,424.3 506.9,425.1 507.3,423.7 507.8,425.1 508.2,425.2 508.7,423.9 509.1,424.6 509.6,424.1 510.0,425.5 510.5,423.7 510.9,425.0 511.3,424.2 511.8,425.3 512.2,425.6 512.7,424.8 513.1,424.6 513.6,423.7 514.0,424.5 514.5,424.2 514.9,424.3 515.4,422.8 515.8,425.2 516.3,423.9 516.7,424.8 517.2,424.5 517.6,425.0 518.1,424.0 518.5,425.4 519.0,425.5 519.4,424.8 519.9,425.4 520.3,424.2 520.8,424.1 521.2,425.1 521.7,424.2 522.1,425.1 522.6,424.7 523.0,424.7 523.5,423.5 523.9,424.7 524.4,425.2 524.8,425.2 525.3,423.9 525.7,425.7 526.2,424.9 526.6,424.9 527.1,426.1 527.5,424.9 527.9,424.1 528.4,424.5 528.8,425.2 529.3,424.2 529.7,424.3 530.2,423.4 530.6,425.1 531.1,424.9 531.5,424.6 532.0,424.7 532.4,424.6 532.9,424.7 533.3,425.0 533.8,425.6 534.2,424.9 534.7,425.4 535.1,425.2 535.6,424.9 536.0,424.3 536.5,424.1 536.9,425.2 537.4,424.4 537.8,424.1 538.3,424.6 538.7,425.5 539.2,425.8 539.6,424.0 540.1,423.9 540.5,424.3 541.0,425.1 541.4,423.5 541.9,423.7 542.3,424.4 542.8,424.4 543.2,424.7 543.7,423.7 544.1,424.9 544.5,423.4 545.0,423.1 545.4,423.1 545.9,421.6 546.3,420.5 546.8,420.8 547.2,419.8 547.7,419.2 548.1,418.7 548.6,417.1 549.0,417.4 549.5,418.0 549.9,418.6 550.4,419.3 550.8,418.9 551.3,421.1 551.7,422.1 552.2,423.2 552.6,423.8 553.1,424.6 553.5,423.6 554.0,424.0 554.4,424.7 554.9,423.9 555.3,424.5 555.8,424.7 556.2,425.2 556.7,424.2 557.1,423.5 557.6,424.5 558.0,424.0 558.5,424.9 558.9,423.7 559.4,425.2 559.8,424.3 560.3,424.2 560.7,424.7 561.1,424.4 561.6,425.4 562.0,425.5 562.5,424.7 562.9,425.1 563.4,424.3 563.8,424.6 564.3,424.3 564.7,424.4 565.2,423.0 565.6,424.6 566.1,424.9 566.5,424.9 567.0,423.4 567.4,425.7 567.9,424.8 568.3,424.1 568.8,424.4 569.2,423.8 569.7,424.3 570.1,425.4 570.6,424.9 571.0,425.5 571.5,424.1 571.9,423.8 572.4,424.9 572.8,424.4 573.3,424.9 573.7,425.6 574.2,425.0 574.6,425.6 575.1,425.0 575.5,424.6 576.0,424.3 576.4,423.9 576.9,424.9 577.3,424.6 577.7,424.4 578.2,424.4 578.6,426.4 579.1,425.2 579.5,424.2 580.0,425.4 580.4,424.6 580.9,424.2 581.3,425.8 581.8,424.8 582.2,424.6 582.7,424.7 583.1,425.6 583.6,424.5 584.0,425.0 584.5,424.2 584.9,424.5 585.4,425.0 585.8,424.6 586.3,425.1 586.7,425.1 587.2,425.7 587.6,424.9 588.1,424.2 588.5,424.7 589.0,424.7 589.4,425.1 589.9,423.8 590.3,424.3 590.8,425.6 591.2,422.2 591.7,424.8 592.1,423.4 592.6,424.0 593.0,425.0 593.5,424.3 593.9,424.6 594.3,424.5 594.8,424.3 595.2,425.1 595.7,425.1 596.1,425.0 596.6,425.6 597.0,424.9 597.5,424.6 597.9,424.6 598.4,424.6 598.8,425.0 599.3,424.3 599.7,426.0 600.2,425.0 600.6,425.0 601.1,424.2 601.5,424.4 602.0,424.3 602.4,424.8 602.9,424.2 603.3,425.4 603.8,424.7 604.2,426.0 604.7,423.7 605.1,423.8 605.6,425.1 606.0,425.3 606.5,426.0 606.9,425.7 607.4,424.7 607.8,424.9 608.3,425.7 608.7,425.1 609.2,425.2 609.6,424.5 610.1,424.4 610.5,424.9 610.9,424.7 611.4,424.8 611.8,426.0 612.3,424.7 612.7,424.8 613.2,424.3 613.6,425.9 614.1,424.3 614.5,425.2 615.0,424.6 615.4,424.0 615.9,425.7 616.3,425.6 616.8,424.2 617.2,425.5 617.7,425.3 618.1,424.4 618.6,424.9 619.0,424.3 619.5,424.6 619.9,424.8 620.4,424.2 620.8,423.5 621.3,424.8 621.7,423.9 622.2,424.1 622.6,424.7 623.1,424.5 623.5,425.3 624.0,425.1 624.4,424.6 624.9,424.8 625.3,424.0 625.8,425.6 626.2,424.9 626.7,425.2 627.1,424.9 627.5,424.1 628.0,425.5 628.4,424.3 628.9,425.1 629.3,425.0 629.8,424.2 630.2,424.9 630.7,424.4 631.1,424.7 631.6,424.9 632.0,425.0 632.5,425.8 632.9,425.2 633.4,424.7 633.8,424.6 634.3,425.7 634.7,424.2 635.2,424.4 635.6,425.5 636.1,425.4 636.5,424.5 637.0,425.8 637.4,425.2 637.9,424.8 638.3,424.8 638.8,424.8 639.2,424.5 639.7,425.2 640.1,425.0 640.6,423.5 641.0,425.6 641.5,425.0 641.9,424.7 642.4,423.8 642.8,424.0 643.3,424.7 643.7,424.3 644.1,426.3 644.6,424.0 645.0,424.1 645.5,425.2 645.9,424.0 646.4,424.6 646.8,424.2 647.3,423.7 647.7,424.7 648.2,425.4 648.6,424.8 649.1,425.5 649.5,425.2 650.0,425.2 650.4,425.2 650.9,422.9 651.3,424.2 651.8,425.3 652.2,424.1 652.7,425.7 653.1,425.1 653.6,424.8 654.0,424.0 654.5,424.3 654.9,424.5 655.4,423.9 655.8,424.3 656.3,423.9 656.7,425.2 657.2,425.7 657.6,425.0 658.1,424.2 658.5,424.6 659.0,424.2 659.4,424.3 659.9,424.4 660.3,424.2 660.7,425.1 661.2,424.1 661.6,425.3 662.1,424.8 662.5,425.6 663.0,424.4 663.4,425.6 663.9,423.9 664.3,425.5 664.8,424.6 665.2,424.8 665.7,425.2 666.1,424.0 666.6,425.0 667.0,423.8 667.5,425.3 667.9,425.2 668.4,425.9 668.8,424.4 669.3,424.2 669.7,424.6 670.2,424.8 670.6,425.3 671.1,423.3 671.5,424.3 672.0,425.8 672.4,424.9 672.9,426.3 673.3,423.7 673.8,423.5 674.2,423.8 674.7,424.7 675.1,425.0 675.6,425.5 676.0,424.4 676.5,423.6 676.9,424.9 677.3,425.1 677.8,424.9 678.2,423.2 678.7,423.7 679.1,424.6 679.6,424.7 680.0,425.3 680.5,425.4 680.9,425.3 681.4,424.1 681.8,424.5 682.3,424.1 682.7,424.4 683.2,424.9 683.6,425.4 684.1,424.8 684.5,425.5 685.0,423.4 685.4,424.4 685.9,424.8 686.3,423.4 686.8,424.8 687.2,424.2 687.7,424.6 688.1,424.3 688.6,424.7 689.0,424.2 689.5,423.6 689.9,425.2 690.4,425.8 690.8,423.6 691.3,424.2 691.7,423.8 692.2,424.4 692.6,423.2 693.1,423.0 693.5,424.7 693.9,423.4 694.4,423.9 694.8,424.1 695.3,422.5 695.7,420.5 696.2,419.1 696.6,415.1 697.1,408.1 697.5,402.5 698.0,396.4 698.6,393.7 698.9,394.4 699.3,398.4 699.8,404.6 700.2,410.7 700.7,414.9 701.1,419.2 701.6,422.4 702.0,423.2 702.5,422.6 702.9,422.9 703.4,424.3 703.8,424.3 704.3,424.1 704.7,424.6 705.2,424.8 705.6,424.5 706.1,423.8 706.5,424.1 707.0,424.6 707.4,424.2 707.9,425.3 708.3,423.9 708.8,424.1 709.2,424.4 709.7,425.6 710.1,423.4 710.5,426.4 711.0,425.2 711.4,425.2 711.9,424.2 712.3,425.6 712.8,424.5 713.2,424.8 713.7,424.8 714.1,424.2 714.6,423.8 715.0,424.4 715.5,424.9 715.9,426.1 716.4,423.8 716.8,424.9 717.3,425.8 717.7,424.6 718.2,423.8 718.6,424.8 719.1,425.4 719.5,423.3 720.0,424.3 720.4,424.5 720.9,424.1 721.3,426.0 721.8,424.7 722.2,424.8 722.7,423.3 723.1,425.0 723.6,425.0 724.0,425.5 724.5,425.2 724.9,424.8 725.4,423.1 725.8,424.8 726.3,423.5 726.7,424.4 727.1,424.3 727.6,423.9 728.0,424.3 728.5,425.0 728.9,425.6 729.4,424.5 729.8,425.2 730.3,423.9 730.7,425.2 731.2,426.1 731.6,424.7 732.1,424.0 732.5,424.8 733.0,424.6 733.4,424.6 733.9,423.6 734.3,424.5 734.8,424.7 735.2,425.1 735.7,425.7 736.1,423.8 736.6,424.0 737.0,425.3 737.5,424.3 737.9,424.5 738.4,424.9 738.8,424.9 739.3,424.2 739.7,425.4 740.2,425.0 740.6,424.7 741.1,424.7 741.5,424.8 742.0,424.5 742.4,424.3 742.9,425.2 743.3,424.6 743.7,425.0 744.2,423.7 744.6,425.5 745.1,424.8 745.5,424.2 746.0,424.8 746.4,424.8 746.9,424.9 747.3,424.4 747.8,425.3 748.2,424.6 748.7,424.6 749.1,425.4 749.6,424.3 750.0,424.7 750.5,423.4 750.9,423.8 751.4,424.1 751.8,425.0 752.3,424.0 752.7,425.0 753.2,424.4 753.6,422.7 754.1,423.5 754.5,422.3 755.0,423.0 755.4,422.4 755.9,422.6 756.3,420.8 756.8,420.9 757.2,419.8 757.7,419.3 758.1,418.7 758.6,418.4 759.2,418.4 759.5,418.5 759.9,419.2 760.3,420.5 760.8,419.4 761.2,419.1 761.7,420.3 762.1,420.1 762.6,421.8 763.0,423.1 763.5,423.6 763.9,422.8 764.4,423.3 764.8,423.9 765.3,423.5 765.7,424.6 766.2,423.8 766.6,424.4 767.1,424.2 767.5,423.6 768.0,424.4 768.4,423.6 768.9,423.6 769.3,424.9 769.8,422.1 770.2,425.2 770.7,424.6 771.1,424.1 771.6,425.9 772.0,423.9 772.5,423.8 772.9,424.6 773.4,424.4 773.8,424.4 774.3,424.7 774.7,423.9 775.2,424.8 775.6,424.6 776.1,424.4 776.5,424.1 776.9,423.9 777.4,425.5 777.8,425.8 778.3,424.7 778.7,424.6 779.2,425.3 779.6,424.4 780.1,424.2 780.5,424.4 781.0,423.6 781.4,425.3 781.9,424.6 782.3,423.5 782.8,424.2 783.2,425.3 783.7,424.5 784.1,423.9 784.6,423.4 785.0,424.2 785.5,423.9 785.9,425.3 786.4,424.8 786.8,423.9 787.3,425.2 787.7,424.7 788.2,425.8 788.6,423.8 789.1,424.7 789.5,424.3 790.0,425.6 790.4,425.5 790.9,423.6 791.3,424.9 791.8,425.0 792.2,424.4 792.7,424.3 793.1,425.9 793.5,425.3 794.0,424.6 794.4,423.9 794.9,424.5 795.3,424.9 795.8,424.8 796.2,424.5 796.7,425.1 797.1,425.2 797.6,425.0 798.0,424.7 798.5,424.8 798.9,425.0 799.4,424.8 799.8,424.7 800.3,424.5 800.7,423.2 801.2,425.5 801.6,424.1 802.1,425.7 802.5,424.4 803.0,425.1 803.4,424.3 803.9,424.0 804.3,425.8 804.8,424.3 805.2,424.5 805.7,425.0 806.1,424.5 806.6,425.0 807.0,424.6 807.5,425.3 807.9,424.2 808.4,424.3 808.8,424.2 809.3,425.1 809.7,423.6 810.1,423.5 810.6,424.7 811.0,424.9 811.5,424.9 811.9,424.3 812.4,424.1 812.8,425.1 813.3,425.9 813.7,424.4 814.2,424.7 814.6,424.6 815.1,424.4 815.5,425.4 816.0,424.7 816.4,424.9 816.9,424.5 817.3,424.0 817.8,424.7 818.2,425.2 818.7,423.9 819.1,424.3 819.6,424.8 820.0,425.8 820.5,425.2 820.9,424.6 821.4,424.4 821.8,425.0 822.3,424.4 822.7,425.1 823.2,425.0 823.6,424.4 824.1,424.9 824.5,424.6 825.0,424.2 825.4,424.0 825.9,424.4 826.3,424.9 826.7,425.5 827.2,425.5 827.6,424.5 828.1,425.0 828.5,425.8 829.0,424.4 829.4,425.2 829.9,424.9 830.3,424.5 830.8,424.5 831.2,424.8 831.7,425.9 832.1,424.4 832.6,425.1 833.0,425.6 833.5,426.0 833.9,423.9 834.4,424.6 834.8,424.7 835.3,424.4 835.7,424.8 836.2,425.6 836.6,424.3 837.1,424.1 837.5,424.4 838.0,423.8 838.4,423.6 838.9,425.2 839.3,425.0 839.8,424.2 840.2,424.6 840.7,424.6 841.1,424.2 841.6,424.3 842.0,425.0 842.5,424.6 842.9,425.1 843.3,424.8 843.8,425.4 844.2,425.9 844.7,425.0 845.1,425.1 845.6,424.2 846.0,423.8 846.5,424.7 846.9,424.4 847.4,425.1 847.8,425.3 848.3,424.9 848.7,424.1 849.2,424.5 849.6,424.6 850.1,423.7 850.5,424.8 851.0,425.7 851.4,424.6 851.9,425.1 852.3,424.6 852.8,424.0 853.2,425.1 853.7,424.7 854.1,424.4 854.6,425.3 855.0,424.6 855.5,424.4 855.9,424.2 856.4,424.0 856.8,424.4 857.3,424.4 857.7,425.5 858.2,426.3 858.6,425.3 859.1,423.8 859.5,424.6 859.9,426.0 860.4,424.9 860.8,424.5 861.3,425.8 861.7,424.3 862.2,425.3 862.6,424.0 863.1,424.6 863.5,422.8 864.0,425.4 864.4,424.5 864.9,423.8 865.3,423.9 865.8,424.6 866.2,424.1 866.7,424.6 867.1,425.3 867.6,425.0 868.0,425.3 868.5,425.2 868.9,424.5 869.4,423.9 869.8,424.1 870.3,424.2 870.7,423.6 871.2,424.2 871.6,425.0 872.1,422.7 872.5,424.0 873.0,424.5 873.4,424.7 873.9,424.6 874.3,423.9 874.8,424.4 875.2,425.0 875.7,424.3 876.1,424.5 876.5,422.8 877.0,423.3 877.4,423.5 877.9,421.5 878.3,419.9 878.8,418.4 879.2,416.9 879.7,414.8 880.3,413.6 880.6,413.5 881.0,415.2 881.5,416.0 881.9,419.4 882.4,419.9 882.8,422.0 883.3,423.9 883.7,424.1 884.2,424.2 884.6,425.0 885.1,423.4 885.5,424.6 886.0,423.9 886.4,424.9 886.9,424.4 887.3,425.0 887.8,423.9 888.2,424.6 888.7,424.8 889.1,424.6 889.6,423.2 890.0,424.3 890.5,424.1 890.9,425.3 891.4,425.0 891.8,424.4 892.3,425.7 892.7,423.8 893.1,424.4 893.6,424.6 894.0,424.7 894.5,424.8 894.9,424.9 895.4,423.8 895.8,424.2 896.3,423.9 896.7,424.8 897.2,425.2 897.6,423.8 898.1,425.4 898.5,425.0 899.0,424.2 899.4,424.0 899.9,425.4 900.3,424.8 900.8,424.6 901.2,424.7 901.7,425.2 902.1,424.3 902.6,425.0 903.0,424.8 903.5,426.0 903.9,424.7 904.4,425.8 904.8,424.2 905.3,424.4 905.7,425.0 906.2,424.6 906.6,424.6 907.1,424.8 907.5,424.5 908.0,424.7 908.4,425.0 908.9,425.1 909.3,423.7 909.7,424.6 910.2,424.7 910.6,424.2 911.1,424.9 911.5,424.9 912.0,424.3 912.4,424.1 912.9,424.3 913.3,425.6 913.8,424.6 914.2,424.7 914.7,424.4 915.1,425.2 915.6,425.3 916.0,424.7 916.5,425.2 916.9,425.3 917.4,424.7 917.8,424.1 918.3,423.7 918.7,424.0 919.2,425.3 919.6,424.2 920.1,424.7 920.5,425.2 921.0,424.9 921.4,423.6 921.9,424.8 922.3,425.1 922.8,423.9 923.2,424.9 923.7,425.5 924.1,424.8 924.6,424.4 925.0,424.8 925.5,424.1 925.9,425.2 926.3,425.1 926.8,423.7 927.2,424.6 927.7,424.3 928.1,424.3 928.6,424.3 929.0,424.6 929.5,424.7 929.9,423.9 930.4,424.9 930.8,424.5 931.3,424.1 931.7,424.7 932.2,425.4 932.6,424.2 933.1,423.7 933.5,424.1 934.0,425.1 934.4,423.6 934.9,422.6 935.3,424.3 935.8,424.7 936.2,422.8 936.7,422.3 937.1,421.5 937.6,421.3 938.0,421.7 938.5,421.5 938.9,422.0 939.4,422.5 939.8,423.0 940.3,423.4 940.7,423.2 941.2,423.6 941.6,424.3 942.1,423.6 942.5,424.8 942.9,424.5 943.4,424.4 943.8,425.6 944.3,424.7 944.7,424.0 945.2,424.1 945.6,425.3 946.1,425.1 946.5,425.2 947.0,424.7 947.4,424.7 947.9,425.6 948.3,424.4 948.8,424.6 949.2,424.7 949.7,425.0 950.1,424.8 950.6,425.7 951.0,424.5 951.5,424.5 951.9,424.7 952.4,425.4 952.8,423.9 953.3,424.0 953.7,425.8 954.2,424.4 954.6,424.6 955.1,426.2 955.5,424.4 956.0,424.3 956.4,424.3 956.9,424.6 957.3,425.1 957.8,425.0 958.2,424.4 958.7,424.0 959.1,425.0 959.5,424.8 960.0,424.3 960.4,425.9 960.9,424.4 961.3,424.8 961.8,426.0 962.2,424.2 962.7,425.2 963.1,424.2 963.6,423.9 964.0,425.4 964.5,425.4 964.9,424.7 965.4,425.7 965.8,424.3 966.3,424.6 966.7,424.1 967.2,425.8 967.6,424.6 968.1,424.4 968.5,425.7 969.0,424.2 969.4,425.5 969.9,424.6 970.3,425.5 970.8,424.2 971.2,423.7 971.7,424.6 972.1,424.7 972.6,423.9 973.0,424.9 973.5,424.6 973.9,424.2 974.4,424.4 974.8,423.8 975.3,424.0 975.7,423.5" fill="none" stroke="#f44246" stroke-width="2.8" stroke-linejoin="round"/>
<polyline points="78.0,256.3 78.4,254.9 78.8,256.2 79.3,257.3 79.7,255.7 80.2,256.0 80.6,256.6 81.1,255.8 81.5,255.9 82.0,255.9 82.4,256.0 82.9,255.6 83.3,256.5 83.8,256.0 84.2,256.2 84.7,255.4 85.1,255.8 85.6,256.0 86.0,256.3 86.5,255.9 86.9,255.7 87.4,255.8 87.8,254.7 88.3,254.9 88.7,257.5 89.2,256.8 89.6,255.6 90.1,255.8 90.5,255.3 91.0,255.3 91.4,253.9 91.9,256.1 92.3,255.6 92.8,253.9 93.2,254.8 93.7,254.8 94.1,255.6 94.6,256.4 95.0,255.1 95.4,255.1 95.9,256.0 96.3,255.6 96.8,255.2 97.2,255.8 97.7,255.2 98.1,255.0 98.6,255.1 99.0,255.4 99.5,254.6 99.9,254.4 100.4,254.8 100.8,255.6 101.3,254.5 101.7,254.0 102.2,254.4 102.6,255.7 103.1,254.3 103.5,255.0 104.0,255.8 104.4,255.1 104.9,254.9 105.3,252.6 105.8,255.6 106.2,255.7 106.7,254.7 107.1,255.2 107.6,253.4 108.0,254.3 108.5,256.0 108.9,254.6 109.4,254.0 109.8,255.0 110.3,255.4 110.7,254.3 111.2,254.6 111.6,254.2 112.0,255.0 112.5,255.8 112.9,254.8 113.4,255.1 113.8,254.2 114.3,254.6 114.7,255.9 115.2,255.6 115.6,254.1 116.1,254.2 116.5,255.2 117.0,254.7 117.4,254.4 117.9,254.4 118.3,254.1 118.8,254.5 119.2,254.8 119.7,254.9 120.1,253.9 120.6,256.3 121.0,254.8 121.5,254.7 121.9,255.7 122.4,254.4 122.8,255.1 123.3,254.1 123.7,254.7 124.2,254.2 124.6,253.8 125.1,254.4 125.5,255.3 126.0,255.7 126.4,253.4 126.9,254.7 127.3,255.1 127.8,254.5 128.2,254.8 128.6,254.0 129.1,254.6 129.5,254.6 130.0,255.1 130.4,254.3 130.9,255.3 131.3,254.1 131.8,253.5 132.2,255.7 132.7,256.3 133.1,254.2 133.6,252.8 134.0,255.3 134.5,255.5 134.9,254.2 135.4,255.2 135.8,254.9 136.3,254.8 136.7,254.2 137.2,254.9 137.6,254.4 138.1,254.7 138.5,255.2 139.0,254.8 139.4,255.2 139.9,254.6 140.3,255.4 140.8,253.2 141.2,253.5 141.7,254.6 142.1,254.6 142.6,254.2 143.0,254.8 143.5,254.7 143.9,254.3 144.4,254.3 144.8,255.4 145.2,254.0 145.7,255.0 146.1,255.3 146.6,255.2 147.0,254.8 147.5,253.4 147.9,255.3 148.4,254.4 148.8,256.0 149.3,254.5 149.7,253.9 150.2,253.0 150.6,254.9 151.1,254.3 151.5,254.0 152.0,254.0 152.4,253.1 152.9,254.3 153.3,254.9 153.8,254.6 154.2,254.5 154.7,254.4 155.1,254.5 155.6,254.3 156.0,255.6 156.5,253.9 156.9,254.8 157.4,255.2 157.8,252.2 158.3,253.5 158.7,254.1 159.2,254.3 159.6,255.0 160.1,252.4 160.5,253.7 161.0,255.1 161.4,254.9 161.8,254.2 162.3,255.4 162.7,254.1 163.2,254.6 163.6,253.4 164.1,253.5 164.5,256.1 165.0,254.1 165.4,255.2 165.9,253.3 166.3,253.9 166.8,253.5 167.2,254.6 167.7,252.4 168.1,252.2 168.6,254.2 169.0,253.0 169.5,253.4 169.9,252.5 170.4,252.9 170.8,250.0 171.3,251.2 171.7,249.7 172.2,247.9 172.6,247.3 173.1,245.6 173.5,244.4 174.0,242.7 174.4,242.4 175.0,241.4 175.3,241.3 175.8,242.1 176.2,243.0 176.7,244.6 177.1,245.4 177.6,247.6 178.0,248.8 178.4,250.3 178.9,251.1 179.3,252.4 179.8,251.8 180.2,253.5 180.7,253.5 181.1,253.0 181.6,251.1 182.0,253.9 182.5,255.2 182.9,253.5 183.4,253.7 183.8,255.0 184.3,253.5 184.7,254.6 185.2,254.9 185.6,254.1 186.1,254.3 186.5,254.1 187.0,255.3 187.4,253.0 187.9,254.7 188.3,255.4 188.8,253.9 189.2,254.6 189.7,254.1 190.1,254.6 190.6,254.4 191.0,254.2 191.5,254.9 191.9,253.0 192.4,254.7 192.8,255.0 193.3,254.3 193.7,254.1 194.2,254.6 194.6,255.0 195.0,254.0 195.5,255.6 195.9,253.4 196.4,254.4 196.8,255.4 197.3,254.4 197.7,254.5 198.2,253.8 198.6,255.1 199.1,254.9 199.5,254.2 200.0,256.1 200.4,252.3 200.9,254.9 201.3,254.9 201.8,253.8 202.2,254.4 202.7,255.7 203.1,254.0 203.6,253.8 204.0,254.7 204.5,254.6 204.9,254.1 205.4,255.0 205.8,254.1 206.3,254.3 206.7,254.9 207.2,255.4 207.6,254.5 208.1,255.0 208.5,253.7 209.0,254.2 209.4,253.8 209.9,254.2 210.3,254.1 210.8,254.8 211.2,253.8 211.6,253.0 212.1,254.5 212.5,254.6 213.0,254.3 213.4,254.5 213.9,254.6 214.3,254.0 214.8,254.2 215.2,253.0 215.7,253.9 216.1,253.6 216.6,253.1 217.0,253.8 217.5,252.4 217.9,253.6 218.4,253.4 218.8,252.5 219.3,251.5 219.7,249.6 220.2,248.3 220.6,247.1 221.1,242.0 221.5,239.9 222.0,237.5 222.6,236.1 222.9,236.1 223.3,238.1 223.8,241.6 224.2,244.6 224.7,246.9 225.1,247.9 225.6,249.9 226.0,250.9 226.5,252.5 226.9,251.7 227.4,254.2 227.8,253.0 228.3,253.7 228.7,253.4 229.1,252.7 229.6,255.5 230.0,253.8 230.5,254.8 230.9,253.7 231.4,255.1 231.8,254.5 232.3,254.1 232.7,253.8 233.2,254.2 233.6,254.8 234.1,254.7 234.5,253.7 235.0,254.3 235.4,255.5 235.9,253.7 236.3,254.1 236.8,253.7 237.2,254.6 237.7,253.8 238.1,255.1 238.6,254.0 239.0,254.7 239.5,253.9 239.9,253.7 240.4,254.9 240.8,254.4 241.3,254.4 241.7,253.6 242.2,253.9 242.6,255.3 243.1,254.1 243.5,253.9 244.0,252.9 244.4,255.6 244.9,254.8 245.3,253.5 245.7,255.4 246.2,255.3 246.6,254.1 247.1,253.7 247.5,254.9 248.0,254.1 248.4,254.4 248.9,253.4 249.3,254.4 249.8,253.7 250.2,255.1 250.7,254.6 251.1,254.5 251.6,253.6 252.0,254.0 252.5,255.0 252.9,254.0 253.4,253.9 253.8,254.5 254.3,254.6 254.7,254.6 255.2,255.6 255.6,254.3 256.1,254.3 256.5,255.0 257.0,253.9 257.4,255.4 257.9,254.8 258.3,254.7 258.8,253.0 259.2,255.5 259.7,254.0 260.1,253.7 260.6,254.1 261.0,253.6 261.5,255.1 261.9,256.0 262.3,253.8 262.8,255.2 263.2,254.6 263.7,255.2 264.1,253.6 264.6,253.7 265.0,254.9 265.5,253.7 265.9,254.3 266.4,254.4 266.8,254.3 267.3,254.5 267.7,253.9 268.2,254.1 268.6,254.5 269.1,253.6 269.5,254.7 270.0,254.0 270.4,253.9 270.9,253.2 271.3,254.5 271.8,252.9 272.2,254.0 272.7,254.2 273.1,254.5 273.6,253.6 274.0,254.0 274.5,254.7 274.9,254.7 275.4,252.0 275.8,254.3 276.3,253.0 276.7,252.8 277.2,253.1 277.6,253.4 278.1,253.9 278.5,253.5 278.9,252.8 279.4,251.9 279.8,252.7 280.3,253.5 280.7,253.2 281.2,253.5 281.6,253.6 282.1,253.2 282.5,252.8 283.0,251.6 283.4,252.8 283.9,251.9 284.3,251.6 284.8,252.8 285.2,251.7 285.7,252.3 286.1,253.1 286.6,252.6 287.0,252.8 287.5,253.1 287.9,253.1 288.4,252.9 288.8,252.7 289.3,253.7 289.7,253.1 290.2,254.2 290.6,253.0 291.1,252.8 291.5,253.2 292.0,253.2 292.4,253.0 292.9,253.9 293.3,253.7 293.8,250.8 294.2,252.9 294.7,253.3 295.1,251.8 295.5,252.5 296.0,253.0 296.4,252.8 296.9,253.8 297.3,254.3 297.8,254.5 298.2,253.6 298.7,252.9 299.1,253.5 299.6,253.6 300.0,254.0 300.5,253.3 300.9,255.2 301.4,253.5 301.8,253.6 302.3,254.6 302.7,252.1 303.2,254.5 303.6,254.3 304.1,254.4 304.5,252.7 305.0,254.1 305.4,252.9 305.9,252.9 306.3,253.1 306.8,254.2 307.2,253.6 307.7,251.9 308.1,254.0 308.6,253.6 309.0,253.0 309.5,252.2 309.9,252.5 310.4,252.1 310.8,253.2 311.3,251.7 311.7,251.8 312.1,253.2 312.6,250.8 313.0,250.1 313.5,252.0 313.9,251.2 314.4,249.9 314.8,251.6 315.3,251.6 315.7,250.7 316.2,249.7 316.6,249.2 317.1,247.7 317.5,247.2 318.0,247.4 318.4,245.0 318.9,242.7 319.3,241.5 319.8,239.4 320.2,237.0 320.7,232.1 321.1,227.6 321.6,218.1 322.0,207.5 322.5,191.9 322.9,174.0 323.4,153.9 323.8,131.4 324.3,113.3 324.7,108.1 325.2,114.5 325.6,132.0 326.1,154.1 326.5,173.6 327.0,191.7 327.4,206.7 327.9,218.3 328.3,226.8 328.7,232.4 329.2,237.3 329.6,239.2 330.1,241.3 330.5,243.1 331.0,245.4 331.4,246.0 331.9,247.1 332.3,246.4 332.8,248.1 333.2,250.1 333.7,248.9 334.1,248.2 334.6,249.3 335.0,249.4 335.5,250.2 335.9,251.7 336.4,251.7 336.8,251.3 337.3,250.5 337.7,250.2 338.2,249.8 338.6,248.3 339.1,249.0 339.5,249.4 340.0,249.0 340.4,246.7 340.9,246.1 341.3,244.5 341.8,239.0 342.2,232.1 342.7,226.4 343.1,215.4 343.6,206.7 344.2,202.0 344.5,203.6 344.9,209.6 345.3,218.9 345.8,225.3 346.2,234.6 346.7,241.6 347.1,244.9 347.6,246.4 348.0,247.3 348.5,249.5 348.9,250.3 349.4,249.8 349.8,251.5 350.3,252.1 350.7,253.1 351.2,252.7 351.6,251.0 352.1,253.7 352.5,252.9 353.0,254.0 353.4,253.0 353.9,252.6 354.3,253.5 354.8,252.9 355.2,252.9 355.7,253.2 356.1,252.4 356.6,253.1 357.0,253.9 357.5,254.2 357.9,254.3 358.4,253.5 358.8,254.0 359.3,251.9 359.7,252.6 360.2,254.1 360.6,254.2 361.1,252.8 361.5,255.3 361.9,254.3 362.4,253.3 362.8,254.7 363.3,254.4 363.7,254.3 364.2,253.6 364.6,254.0 365.1,253.8 365.5,253.7 366.0,254.1 366.4,253.4 366.9,254.7 367.3,255.2 367.8,255.4 368.2,255.3 368.7,254.6 369.1,253.5 369.6,254.1 370.0,254.6 370.5,255.0 370.9,254.6 371.4,254.5 371.8,254.6 372.3,255.2 372.7,254.6 373.2,253.5 373.6,255.8 374.1,254.4 374.5,255.7 375.0,254.1 375.4,254.8 375.9,255.7 376.3,254.2 376.8,253.0 377.2,254.2 377.7,251.4 378.1,254.3 378.5,255.8 379.0,253.9 379.4,254.6 379.9,255.3 380.3,253.7 380.8,254.1 381.2,254.7 381.7,253.7 382.1,254.9 382.6,253.8 383.0,254.9 383.5,253.9 383.9,255.1 384.4,253.2 384.8,254.1 385.3,253.3 385.7,254.9 386.2,254.6 386.6,253.7 387.1,256.2 387.5,255.0 388.0,253.5 388.4,253.9 388.9,253.6 389.3,254.5 389.8,253.8 390.2,254.7 390.7,255.2 391.1,255.4 391.6,254.6 392.0,254.6 392.5,254.6 392.9,256.7 393.4,255.6 393.8,254.5 394.3,253.9 394.7,254.5 395.1,252.8 395.6,255.7 396.0,252.7 396.5,254.8 396.9,252.9 397.4,252.9 397.8,253.8 398.3,254.4 398.7,253.8 399.2,254.7 399.6,253.7 400.1,253.8 400.5,253.4 401.0,253.1 401.4,252.4 401.9,253.9 402.3,252.8 402.8,254.0 403.2,253.9 403.7,253.6 404.1,253.6 404.6,252.0 405.0,250.4 405.5,251.2 405.9,251.7 406.4,249.3 406.8,251.0 407.3,250.7 407.7,248.7 408.2,247.9 408.6,247.8 409.1,245.5 409.5,245.8 410.0,243.4 410.4,242.5 410.9,241.1 411.3,240.4 411.7,238.1 412.2,237.8 412.6,237.2 413.1,238.1 413.5,239.7 414.0,239.9 414.4,241.6 414.9,240.6 415.3,242.5 415.8,244.4 416.2,246.3 416.7,247.3 417.1,248.0 417.6,250.1 418.0,249.8 418.5,250.5 418.9,251.6 419.4,252.0 419.8,252.0 420.3,253.1 420.7,253.3 421.2,252.4 421.6,253.0 422.1,252.1 422.5,254.1 423.0,254.8 423.4,253.0 423.9,253.0 424.3,254.3 424.8,254.9 425.2,253.9 425.7,255.2 426.1,254.2 426.6,255.5 427.0,254.2 427.5,255.6 427.9,254.3 428.3,253.1 428.8,254.3 429.2,253.6 429.7,254.6 430.1,254.8 430.6,255.3 431.0,253.5 431.5,253.0 431.9,253.1 432.4,255.1 432.8,254.5 433.3,254.3 433.7,253.3 434.2,253.1 434.6,254.8 435.1,255.1 435.5,255.6 436.0,253.4 436.4,254.4 436.9,254.8 437.3,254.4 437.8,256.2 438.2,255.6 438.7,253.8 439.1,254.1 439.6,254.3 440.0,255.1 440.5,254.0 440.9,253.2 441.4,254.4 441.8,254.4 442.3,254.8 442.7,254.2 443.2,254.5 443.6,254.6 444.1,255.1 444.5,254.5 444.9,254.9 445.4,254.6 445.8,254.5 446.3,254.0 446.7,254.9 447.2,254.7 447.6,253.7 448.1,254.7 448.5,254.7 449.0,253.9 449.4,254.3 449.9,254.4 450.3,252.1 450.8,255.4 451.2,254.2 451.7,253.6 452.1,254.1 452.6,255.6 453.0,254.3 453.5,255.2 453.9,254.7 454.4,254.4 454.8,255.4 455.3,253.6 455.7,254.6 456.2,254.0 456.6,254.1 457.1,253.6 457.5,253.7 458.0,255.6 458.4,254.5 458.9,256.0 459.3,254.8 459.8,254.0 460.2,253.9 460.7,253.6 461.1,254.8 461.5,254.3 462.0,254.5 462.4,253.6 462.9,253.4 463.3,254.8 463.8,251.9 464.2,254.5 464.7,254.8 465.1,254.1 465.6,254.0 466.0,254.2 466.5,255.0 466.9,253.5 467.4,254.5 467.8,253.5 468.3,253.6 468.7,255.4 469.2,255.2 469.6,255.2 470.1,254.4 470.5,254.5 471.0,254.4 471.4,255.1 471.9,254.2 472.3,253.6 472.8,255.5 473.2,254.7 473.7,254.4 474.1,254.6 474.6,254.7 475.0,253.3 475.5,253.6 475.9,253.9 476.4,255.1 476.8,253.0 477.3,254.3 477.7,254.9 478.1,254.8 478.6,254.9 479.0,253.1 479.5,254.4 479.9,254.5 480.4,256.1 480.8,254.0 481.3,255.3 481.7,255.3 482.2,254.1 482.6,255.1 483.1,254.0 483.5,253.8 484.0,255.8 484.4,254.6 484.9,255.6 485.3,254.6 485.8,253.9 486.2,253.9 486.7,253.3 487.1,254.8 487.6,255.4 488.0,252.8 488.5,254.0 488.9,255.5 489.4,254.5 489.8,255.5 490.3,252.7 490.7,254.4 491.2,254.8 491.6,253.8 492.1,255.5 492.5,254.8 493.0,253.3 493.4,254.6 493.9,253.6 494.3,254.4 494.7,255.0 495.2,254.7 495.6,254.5 496.1,254.8 496.5,255.1 497.0,255.1 497.4,255.6 497.9,254.5 498.3,254.3 498.8,254.0 499.2,255.8 499.7,254.0 500.1,252.8 500.6,255.6 501.0,254.5 501.5,254.0 501.9,254.2 502.4,254.0 502.8,253.9 503.3,253.9 503.7,254.6 504.2,256.0 504.6,255.1 505.1,254.3 505.5,254.9 506.0,252.1 506.4,254.0 506.9,254.5 507.3,253.2 507.8,255.2 508.2,253.9 508.7,254.9 509.1,255.1 509.6,254.1 510.0,255.0 510.5,253.9 510.9,255.4 511.3,254.5 511.8,255.1 512.2,254.7 512.7,254.8 513.1,255.3 513.6,254.1 514.0,255.4 514.5,255.2 514.9,253.9 515.4,253.9 515.8,254.1 516.3,254.3 516.7,252.9 517.2,255.4 517.6,255.0 518.1,255.2 518.5,253.9 519.0,254.3 519.4,253.7 519.9,253.8 520.3,254.7 520.8,255.1 521.2,255.2 521.7,253.0 522.1,253.8 522.6,254.1 523.0,254.7 523.5,254.6 523.9,252.7 524.4,254.7 524.8,256.2 525.3,254.5 525.7,254.8 526.2,254.3 526.6,254.3 527.1,253.9 527.5,254.5 527.9,253.9 528.4,256.3 528.8,255.2 529.3,253.2 529.7,255.3 530.2,254.6 530.6,253.9 531.1,255.0 531.5,253.9 532.0,255.4 532.4,255.7 532.9,255.3 533.3,255.5 533.8,254.4 534.2,254.6 534.7,254.1 535.1,255.0 535.6,252.5 536.0,254.4 536.5,254.3 536.9,253.9 537.4,254.4 537.8,254.6 538.3,254.1 538.7,253.5 539.2,253.6 539.6,253.4 540.1,254.4 540.5,254.5 541.0,252.4 541.4,253.9 541.9,253.3 542.3,252.9 542.8,252.2 543.2,253.9 543.7,252.9 544.1,252.5 544.5,251.8 545.0,252.6 545.4,250.2 545.9,251.2 546.3,247.9 546.8,246.6 547.2,245.4 547.7,245.6 548.1,243.2 548.6,243.9 549.0,243.9 549.5,244.0 549.9,244.5 550.4,244.7 550.8,245.3 551.3,248.5 551.7,248.5 552.2,248.5 552.6,250.0 553.1,250.6 553.5,252.6 554.0,251.5 554.4,253.7 554.9,252.8 555.3,252.3 555.8,252.1 556.2,253.3 556.7,253.1 557.1,254.3 557.6,254.3 558.0,253.2 558.5,254.0 558.9,254.2 559.4,255.1 559.8,254.0 560.3,253.7 560.7,254.8 561.1,254.6 561.6,253.2 562.0,254.2 562.5,254.5 562.9,255.1 563.4,254.8 563.8,254.5 564.3,253.4 564.7,254.8 565.2,253.1 565.6,255.0 566.1,254.6 566.5,253.8 567.0,254.6 567.4,255.0 567.9,254.5 568.3,254.1 568.8,255.6 569.2,254.6 569.7,254.5 570.1,254.7 570.6,253.9 571.0,254.9 571.5,254.7 571.9,254.4 572.4,254.0 572.8,254.6 573.3,253.4 573.7,255.1 574.2,253.6 574.6,255.1 575.1,254.6 575.5,254.2 576.0,253.1 576.4,253.9 576.9,254.8 577.3,253.6 577.7,254.7 578.2,255.1 578.6,254.2 579.1,254.4 579.5,253.8 580.0,254.9 580.4,253.4 580.9,254.1 581.3,254.3 581.8,254.5 582.2,255.0 582.7,253.9 583.1,254.4 583.6,254.2 584.0,254.8 584.5,254.5 584.9,255.2 585.4,254.5 585.8,254.0 586.3,254.5 586.7,253.9 587.2,254.3 587.6,253.6 588.1,254.7 588.5,255.7 589.0,254.2 589.4,254.6 589.9,255.2 590.3,254.1 590.8,254.3 591.2,254.2 591.7,254.8 592.1,254.4 592.6,254.4 593.0,253.3 593.5,255.0 593.9,254.5 594.3,254.3 594.8,255.7 595.2,255.7 595.7,253.0 596.1,254.8 596.6,254.1 597.0,255.1 597.5,255.1 597.9,255.9 598.4,253.1 598.8,254.0 599.3,255.5 599.7,254.1 600.2,254.3 600.6,253.1 601.1,254.9 601.5,253.7 602.0,253.9 602.4,254.7 602.9,255.7 603.3,253.5 603.8,255.5 604.2,254.9 604.7,253.9 605.1,253.8 605.6,255.1 606.0,254.6 606.5,254.7 606.9,253.7 607.4,252.8 607.8,254.8 608.3,253.9 608.7,256.5 609.2,254.5 609.6,255.3 610.1,253.1 610.5,254.4 610.9,255.1 611.4,254.9 611.8,254.9 612.3,254.4 612.7,254.6 613.2,254.1 613.6,253.5 614.1,254.0 614.5,255.4 615.0,255.7 615.4,255.1 615.9,253.8 616.3,252.7 616.8,255.0 617.2,254.4 617.7,255.5 618.1,255.3 618.6,254.2 619.0,254.7 619.5,254.8 619.9,254.3 620.4,254.1 620.8,255.0 621.3,254.9 621.7,254.1 622.2,254.5 622.6,255.4 623.1,254.7 623.5,254.1 624.0,253.2 624.4,255.3 624.9,254.3 625.3,254.7 625.8,253.9 626.2,254.2 626.7,253.5 627.1,254.2 627.5,254.9 628.0,254.9 628.4,254.2 628.9,254.2 629.3,252.8 629.8,253.3 630.2,255.3 630.7,254.3 631.1,255.4 631.6,255.7 632.0,254.0 632.5,254.1 632.9,255.2 633.4,253.4 633.8,255.2 634.3,255.3 634.7,254.1 635.2,254.4 635.6,254.6 636.1,254.6 636.5,254.3 637.0,254.6 637.4,254.6 637.9,255.8 638.3,255.4 638.8,254.1 639.2,255.0 639.7,254.1 640.1,253.6 640.6,254.7 641.0,254.3 641.5,253.0 641.9,254.0 642.4,253.2 642.8,253.4 643.3,254.0 643.7,254.6 644.1,255.1 644.6,253.6 645.0,254.1 645.5,254.2 645.9,254.6 646.4,253.9 646.8,254.9 647.3,253.7 647.7,254.4 648.2,254.5 648.6,254.5 649.1,254.5 649.5,252.7 650.0,255.6 650.4,254.3 650.9,253.6 651.3,254.0 651.8,254.7 652.2,253.2 652.7,255.2 653.1,255.4 653.6,254.0 654.0,255.5 654.5,256.1 654.9,253.8 655.4,253.9 655.8,253.9 656.3,254.8 656.7,254.3 657.2,255.1 657.6,253.2 658.1,253.9 658.5,251.7 659.0,255.8 659.4,253.8 659.9,253.3 660.3,253.5 660.7,253.8 661.2,254.4 661.6,254.6 662.1,253.9 662.5,254.1 663.0,254.2 663.4,254.6 663.9,253.2 664.3,255.2 664.8,254.3 665.2,254.7 665.7,253.6 666.1,253.3 666.6,253.4 667.0,253.8 667.5,255.3 667.9,252.8 668.4,253.9 668.8,254.3 669.3,254.2 669.7,254.5 670.2,253.9 670.6,254.0 671.1,254.5 671.5,256.0 672.0,254.2 672.4,253.8 672.9,253.8 673.3,254.3 673.8,253.8 674.2,253.4 674.7,254.4 675.1,253.1 675.6,255.4 676.0,254.9 676.5,254.7 676.9,255.7 677.3,254.7 677.8,253.1 678.2,253.0 678.7,253.8 679.1,252.7 679.6,253.7 680.0,253.0 680.5,253.6 680.9,253.8 681.4,253.2 681.8,254.7 682.3,252.9 682.7,253.8 683.2,252.9 683.6,254.5 684.1,253.6 684.5,253.2 685.0,252.5 685.4,253.9 685.9,251.8 686.3,252.5 686.8,253.0 687.2,251.6 687.7,252.2 688.1,251.2 688.6,250.1 689.0,250.9 689.5,251.4 689.9,250.8 690.4,249.5 690.8,249.0 691.3,249.0 691.7,248.0 692.2,246.0 692.6,243.6 693.1,245.8 693.5,242.0 693.9,241.0 694.4,238.6 694.8,236.8 695.3,235.5 695.7,234.3 696.2,232.8 696.6,231.4 697.1,227.7 697.5,227.5 698.0,226.9 698.6,226.3 698.9,226.1 699.3,226.5 699.8,226.8 700.2,228.2 700.7,231.7 701.1,231.4 701.6,234.8 702.0,237.5 702.5,238.8 702.9,240.4 703.4,241.4 703.8,243.7 704.3,245.5 704.7,245.9 705.2,245.5 705.6,248.3 706.1,248.4 706.5,249.4 707.0,248.3 707.4,252.0 707.9,250.4 708.3,252.4 708.8,252.3 709.2,252.2 709.7,250.1 710.1,253.1 710.5,254.0 711.0,251.9 711.4,253.6 711.9,253.2 712.3,253.2 712.8,253.2 713.2,253.5 713.7,253.2 714.1,253.2 714.6,252.9 715.0,253.9 715.5,254.1 715.9,254.4 716.4,253.3 716.8,253.8 717.3,253.4 717.7,253.4 718.2,252.7 718.6,253.7 719.1,253.4 719.5,254.8 720.0,254.7 720.4,254.2 720.9,254.8 721.3,253.5 721.8,255.0 722.2,254.0 722.7,255.8 723.1,254.9 723.6,254.3 724.0,254.3 724.5,255.4 724.9,254.1 725.4,253.5 725.8,253.7 726.3,254.6 726.7,254.6 727.1,255.0 727.6,253.8 728.0,253.2 728.5,254.6 728.9,255.4 729.4,254.1 729.8,253.7 730.3,256.2 730.7,254.2 731.2,252.7 731.6,253.7 732.1,253.9 732.5,254.0 733.0,253.5 733.4,254.9 733.9,254.9 734.3,254.0 734.8,254.8 735.2,254.1 735.7,255.6 736.1,253.8 736.6,253.7 737.0,254.3 737.5,254.2 737.9,253.2 738.4,255.1 738.8,254.9 739.3,255.1 739.7,254.6 740.2,255.0 740.6,254.3 741.1,254.7 741.5,255.3 742.0,255.4 742.4,253.4 742.9,254.3 743.3,254.4 743.7,254.2 744.2,254.3 744.6,251.5 745.1,253.8 745.5,254.6 746.0,254.8 746.4,254.9 746.9,255.0 747.3,253.1 747.8,254.7 748.2,253.1 748.7,254.6 749.1,254.6 749.6,253.7 750.0,254.5 750.5,253.5 750.9,253.5 751.4,252.8 751.8,252.1 752.3,251.4 752.7,252.3 753.2,253.8 753.6,252.9 754.1,252.1 754.5,250.3 755.0,250.6 755.4,249.5 755.9,249.5 756.3,248.0 756.8,246.8 757.2,246.5 757.7,244.5 758.1,243.4 758.6,243.5 759.2,242.3 759.5,242.0 759.9,242.1 760.3,244.4 760.8,245.7 761.2,247.0 761.7,247.6 762.1,249.1 762.6,250.0 763.0,251.1 763.5,252.4 763.9,252.6 764.4,252.2 764.8,253.6 765.3,253.6 765.7,252.2 766.2,252.7 766.6,254.1 767.1,253.3 767.5,254.3 768.0,252.8 768.4,254.4 768.9,254.0 769.3,253.1 769.8,254.7 770.2,253.2 770.7,254.7 771.1,254.0 771.6,254.4 772.0,254.3 772.5,254.1 772.9,254.3 773.4,255.0 773.8,253.7 774.3,253.8 774.7,253.4 775.2,253.4 775.6,255.3 776.1,253.5 776.5,253.5 776.9,254.8 777.4,253.7 777.8,253.4 778.3,254.8 778.7,255.4 779.2,254.7 779.6,252.5 780.1,254.3 780.5,255.3 781.0,254.6 781.4,255.1 781.9,254.7 782.3,254.4 782.8,256.2 783.2,254.2 783.7,251.2 784.1,254.6 784.6,254.7 785.0,253.7 785.5,255.4 785.9,255.3 786.4,255.4 786.8,254.6 787.3,254.2 787.7,254.5 788.2,254.1 788.6,253.9 789.1,254.1 789.5,255.1 790.0,254.7 790.4,253.6 790.9,255.2 791.3,254.7 791.8,254.8 792.2,254.6 792.7,255.3 793.1,255.4 793.5,252.7 794.0,253.8 794.4,255.0 794.9,254.5 795.3,254.0 795.8,254.8 796.2,254.1 796.7,254.9 797.1,254.8 797.6,254.6 798.0,254.8 798.5,256.2 798.9,253.0 799.4,254.3 799.8,254.2 800.3,255.2 800.7,252.1 801.2,254.4 801.6,255.8 802.1,256.1 802.5,254.2 803.0,255.2 803.4,253.8 803.9,253.0 804.3,254.9 804.8,255.0 805.2,254.5 805.7,254.1 806.1,255.3 806.6,253.7 807.0,253.8 807.5,254.1 807.9,254.9 808.4,253.9 808.8,252.5 809.3,255.4 809.7,253.1 810.1,254.7 810.6,254.3 811.0,254.9 811.5,254.3 811.9,253.7 812.4,255.1 812.8,255.7 813.3,254.8 813.7,255.4 814.2,255.1 814.6,254.6 815.1,254.6 815.5,253.6 816.0,254.0 816.4,254.3 816.9,254.9 817.3,253.6 817.8,252.8 818.2,254.3 818.7,253.4 819.1,254.9 819.6,255.6 820.0,255.4 820.5,253.7 820.9,255.2 821.4,254.7 821.8,253.7 822.3,254.0 822.7,254.2 823.2,254.8 823.6,255.0 824.1,254.5 824.5,254.4 825.0,254.3 825.4,254.3 825.9,254.6 826.3,255.9 826.7,255.3 827.2,255.1 827.6,253.3 828.1,254.8 828.5,254.1 829.0,253.5 829.4,254.3 829.9,254.8 830.3,254.7 830.8,255.2 831.2,254.3 831.7,253.7 832.1,254.1 832.6,254.0 833.0,254.0 833.5,253.1 833.9,255.0 834.4,254.4 834.8,254.0 835.3,253.6 835.7,256.2 836.2,254.9 836.6,254.7 837.1,255.2 837.5,253.9 838.0,254.4 838.4,254.8 838.9,255.6 839.3,255.4 839.8,255.2 840.2,254.2 840.7,255.4 841.1,255.9 841.6,255.5 842.0,254.9 842.5,253.3 842.9,252.7 843.3,254.8 843.8,253.8 844.2,253.5 844.7,253.6 845.1,254.6 845.6,255.4 846.0,254.8 846.5,255.8 846.9,254.3 847.4,253.9 847.8,255.8 848.3,254.5 848.7,254.3 849.2,251.8 849.6,253.5 850.1,253.9 850.5,254.9 851.0,254.7 851.4,253.6 851.9,254.9 852.3,254.5 852.8,253.3 853.2,254.3 853.7,255.4 854.1,254.6 854.6,254.0 855.0,254.5 855.5,253.6 855.9,253.5 856.4,254.8 856.8,252.8 857.3,254.5 857.7,255.2 858.2,254.1 858.6,254.5 859.1,253.8 859.5,254.8 859.9,253.1 860.4,253.0 860.8,254.9 861.3,252.8 861.7,254.8 862.2,254.5 862.6,254.9 863.1,253.2 863.5,254.7 864.0,254.5 864.4,253.9 864.9,253.6 865.3,253.7 865.8,254.5 866.2,253.7 866.7,254.0 867.1,254.0 867.6,255.0 868.0,253.3 868.5,253.8 868.9,252.4 869.4,253.0 869.8,254.2 870.3,254.2 870.7,252.3 871.2,253.6 871.6,252.4 872.1,252.9 872.5,251.0 873.0,250.8 873.4,251.1 873.9,251.0 874.3,252.1 874.8,251.7 875.2,250.3 875.7,251.1 876.1,251.5 876.5,249.8 877.0,248.6 877.4,250.3 877.9,249.1 878.3,250.0 878.8,248.8 879.2,249.8 879.7,248.7 880.1,249.2 880.6,249.7 881.0,247.8 881.5,250.1 881.9,250.6 882.4,250.7 882.8,250.1 883.3,251.0 883.7,250.2 884.2,250.3 884.6,250.6 885.1,251.5 885.5,251.3 886.0,251.6 886.4,250.8 886.9,252.5 887.3,252.4 887.8,252.5 888.2,252.6 888.7,253.2 889.1,253.3 889.6,252.3 890.0,253.6 890.5,252.6 890.9,251.9 891.4,252.6 891.8,254.8 892.3,253.1 892.7,253.4 893.1,253.4 893.6,255.0 894.0,253.4 894.5,254.7 894.9,253.1 895.4,253.3 895.8,252.3 896.3,254.4 896.7,255.2 897.2,253.4 897.6,253.6 898.1,254.5 898.5,253.3 899.0,253.7 899.4,255.1 899.9,254.5 900.3,254.6 900.8,254.3 901.2,254.1 901.7,254.8 902.1,254.4 902.6,251.8 903.0,254.4 903.5,254.5 903.9,254.5 904.4,254.4 904.8,255.7 905.3,254.2 905.7,255.1 906.2,252.3 906.6,255.4 907.1,253.7 907.5,254.2 908.0,255.3 908.4,254.2 908.9,254.9 909.3,253.1 909.7,254.0 910.2,254.9 910.6,252.4 911.1,254.4 911.5,253.5 912.0,254.1 912.4,254.0 912.9,255.2 913.3,253.8 913.8,252.9 914.2,253.9 914.7,254.4 915.1,254.3 915.6,255.1 916.0,254.3 916.5,255.2 916.9,252.6 917.4,254.7 917.8,255.0 918.3,254.0 918.7,255.4 919.2,254.4 919.6,255.3 920.1,253.1 920.5,253.0 921.0,253.8 921.4,253.0 921.9,253.9 922.3,254.0 922.8,254.6 923.2,255.0 923.7,254.2 924.1,254.7 924.6,254.6 925.0,252.1 925.5,254.3 925.9,255.3 926.3,254.4 926.8,254.7 927.2,254.3 927.7,254.9 928.1,253.2 928.6,252.7 929.0,254.7 929.5,253.5 929.9,253.4 930.4,254.5 930.8,253.6 931.3,252.6 931.7,252.9 932.2,252.3 932.6,254.2 933.1,253.8 933.5,253.0 934.0,252.8 934.4,252.9 934.9,253.1 935.3,253.1 935.8,253.1 936.2,252.3 936.7,254.5 937.1,251.4 937.6,252.9 938.0,253.5 938.5,252.2 938.9,253.6 939.4,252.4 939.8,253.0 940.3,252.4 940.7,252.3 941.2,252.0 941.6,252.5 942.1,253.4 942.5,253.3 942.9,254.3 943.4,253.0 943.8,253.4 944.3,254.6 944.7,252.9 945.2,252.8 945.6,254.8 946.1,253.5 946.5,253.1 947.0,253.5 947.4,254.8 947.9,255.1 948.3,254.3 948.8,254.6 949.2,254.3 949.7,254.3 950.1,253.9 950.6,254.7 951.0,254.5 951.5,252.3 951.9,254.5 952.4,253.9 952.8,254.2 953.3,254.3 953.7,255.1 954.2,254.1 954.6,254.5 955.1,253.9 955.5,253.0 956.0,254.3 956.4,253.9 956.9,255.2 957.3,254.4 957.8,253.4 958.2,254.5 958.7,254.9 959.1,254.3 959.5,254.6 960.0,254.7 960.4,254.8 960.9,253.1 961.3,255.1 961.8,254.8 962.2,254.9 962.7,253.6 963.1,254.7 963.6,253.6 964.0,254.4 964.5,254.5 964.9,255.5 965.4,253.7 965.8,254.1 966.3,254.2 966.7,254.6 967.2,254.8 967.6,255.4 968.1,253.9 968.5,254.3 969.0,254.8 969.4,255.0 969.9,254.4 970.3,254.6 970.8,253.4 971.2,254.0 971.7,255.0 972.1,255.3 972.6,254.7 973.0,255.2 973.5,254.5 973.9,254.3 974.4,254.1 974.8,254.2 975.3,254.7 975.7,254.1" fill="none" stroke="#1f6fe0" stroke-width="3" stroke-linejoin="round"/>
<rect x="63.8" y="3.3" width="926.9" height="739.7" fill="none" stroke="#000" stroke-width="2.9"/>
<line x1="78.7" y1="743.0" x2="78.7" y2="756.6" stroke="#000" stroke-width="2.9"/>
<line x1="153.5" y1="743.0" x2="153.5" y2="749.3" stroke="#000" stroke-width="2.9"/>
<line x1="228.2" y1="743.0" x2="228.2" y2="756.6" stroke="#000" stroke-width="2.9"/>
<line x1="303.0" y1="743.0" x2="303.0" y2="749.3" stroke="#000" stroke-width="2.9"/>
<line x1="377.8" y1="743.0" x2="377.8" y2="756.6" stroke="#000" stroke-width="2.9"/>
<line x1="452.6" y1="743.0" x2="452.6" y2="749.3" stroke="#000" stroke-width="2.9"/>
<line x1="527.4" y1="743.0" x2="527.4" y2="756.6" stroke="#000" stroke-width="2.9"/>
<line x1="602.1" y1="743.0" x2="602.1" y2="749.3" stroke="#000" stroke-width="2.9"/>
<line x1="676.9" y1="743.0" x2="676.9" y2="756.6" stroke="#000" stroke-width="2.9"/>
<line x1="751.7" y1="743.0" x2="751.7" y2="749.3" stroke="#000" stroke-width="2.9"/>
<line x1="826.5" y1="743.0" x2="826.5" y2="756.6" stroke="#000" stroke-width="2.9"/>
<line x1="901.2" y1="743.0" x2="901.2" y2="749.3" stroke="#000" stroke-width="2.9"/>
<line x1="976.0" y1="743.0" x2="976.0" y2="756.6" stroke="#000" stroke-width="2.9"/>
<text transform="translate(53.30,800.29) scale(1.0011,1.0125)" style="font-size:45px;font-weight:bold" fill="#000">20</text>
<text transform="translate(203.10,800.29) scale(1.0011,1.0125)" style="font-size:45px;font-weight:bold" fill="#000">30</text>
<text transform="translate(352.77,800.29) scale(1.0011,1.0125)" style="font-size:45px;font-weight:bold" fill="#000">40</text>
<text transform="translate(501.95,800.29) scale(1.0011,1.0125)" style="font-size:45px;font-weight:bold" fill="#000">50</text>
<text transform="translate(651.37,800.29) scale(1.0011,1.0125)" style="font-size:45px;font-weight:bold" fill="#000">60</text>
<text transform="translate(800.80,800.29) scale(1.0011,1.0125)" style="font-size:45px;font-weight:bold" fill="#000">70</text>
<text transform="translate(950.60,800.29) scale(1.0011,1.0125)" style="font-size:45px;font-weight:bold" fill="#000">80</text>
<text transform="translate(476.46,851.60) scale(1.1178,1.0607)" style="font-size:40px" fill="#000">2</text>
<text transform="translate(500.34,852.24) scale(1.1806,1.0407)" style="font-size:40px;font-family:'Liberation Serif',serif" fill="#000">θ</text>
<text transform="translate(532.34,852.03) scale(1.0649,1.0389)" style="font-size:40px" fill="#000">(°)</text>
<text transform="translate(33.05,616.69) rotate(-90) scale(0.9967,0.9885)" style="font-size:42px" fill="#000">Normalized Intensity (a.u.)</text>
<text transform="translate(234.21,226.05) rotate(-90) scale(1.0019,1.0062)" style="font-size:35px;font-weight:bold" fill="#000">(<tspan style="font-family:NanumGothic;font-size:0.92em" stroke="#000" stroke-width="1.0">1</tspan><tspan style="font-family:NanumGothic;font-size:0.92em" stroke="#000" stroke-width="1.0">1</tspan>0)</text>
<text transform="translate(334.11,100.21) rotate(-90) scale(1.0077,1.0062)" style="font-size:35px;font-weight:bold" fill="#000">(<tspan style="font-family:NanumGothic;font-size:0.92em" stroke="#000" stroke-width="1.0">1</tspan><tspan style="font-family:NanumGothic;font-size:0.92em" stroke="#000" stroke-width="1.0">1</tspan><tspan style="font-family:NanumGothic;font-size:0.92em" stroke="#000" stroke-width="1.0">1</tspan>)</text>
<text transform="translate(422.67,230.86) rotate(-90) scale(1.0058,0.9969)" style="font-size:35px;font-weight:bold" fill="#000">(200)</text>
<text transform="translate(709.07,219.67) rotate(-90) scale(1.0109,0.9969)" style="font-size:35px;font-weight:bold" fill="#000">(220)</text>
<text transform="translate(890.48,195.56) rotate(-90) scale(1.0038,1.0092)" style="font-size:35px;font-weight:bold" fill="#000">(3<tspan style="font-family:NanumGothic;font-size:0.92em" stroke="#000" stroke-width="1.0">1</tspan><tspan style="font-family:NanumGothic;font-size:0.92em" stroke="#000" stroke-width="1.0">1</tspan>)</text>
<text transform="translate(725.46,238.69) scale(0.9925,1.0218)" style="font-size:42px;font-weight:bold" fill="#1f6fe0">-300 mV</text>
<text transform="translate(727.46,408.79) scale(0.9950,1.0252)" style="font-size:42px;font-weight:bold" fill="#f44246">-250 mV</text>
<text transform="translate(728.66,557.49) scale(0.9943,1.0218)" style="font-size:42px;font-weight:bold" fill="#505050">-200 mV</text>
<text transform="translate(674.86,639.85) scale(1.0300,1.0850)" style="font-size:28px" fill="#000">Cu<tspan dy="7.20" style="font-size:19.6px">2</tspan><tspan dy="-7.20">O JCPDS: 05-0667</tspan></text>
<text transform="translate(675.12,681.90) scale(1.0268,1.0600)" style="font-size:28px" fill="#50afeb">SnO<tspan dy="7.20" style="font-size:19.6px">2</tspan><tspan dy="-7.20"> JCPDS: 04<tspan style="font-family:NanumGothic;font-size:0.93em" stroke="#50afeb" stroke-width="0.6">1</tspan>-<tspan style="font-family:NanumGothic;font-size:0.93em" stroke="#50afeb" stroke-width="0.6">1</tspan>445</tspan></text>
</svg>
</body></html>
